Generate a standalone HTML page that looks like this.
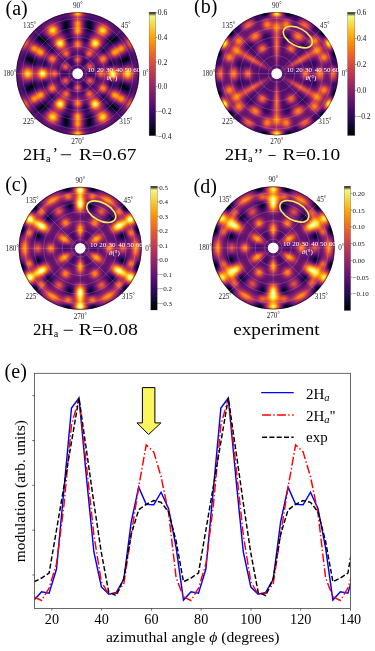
<!DOCTYPE html><html><head><meta charset="utf-8"><title>figure</title><style>html,body{margin:0;padding:0;background:#fff;}svg,canvas{display:block;position:absolute;left:0;top:0;}</style></head><body>
<div style="position:relative;width:375px;height:651px;overflow:hidden">
<svg id="fbs" width="375" height="651" viewBox="0 0 375 651">
<defs>
<filter id="inf" x="0" y="0" width="1" height="1" color-interpolation-filters="sRGB"><feComponentTransfer><feFuncR type="table" tableValues="0.001 0.006 0.014 0.026 0.042 0.061 0.082 0.105 0.129 0.156 0.183 0.211 0.238 0.265 0.291 0.316 0.348 0.373 0.398 0.423 0.447 0.472 0.497 0.522 0.547 0.572 0.597 0.622 0.646 0.671 0.695 0.718 0.747 0.770 0.791 0.812 0.832 0.851 0.869 0.886 0.902 0.916 0.930 0.942 0.952 0.961 0.969 0.976 0.982 0.985 0.987 0.988 0.987 0.985 0.981 0.976 0.970 0.963 0.955 0.949 0.946 0.952 0.966 0.988"/><feFuncG type="table" tableValues="0.000 0.005 0.011 0.019 0.028 0.037 0.043 0.047 0.047 0.045 0.040 0.037 0.037 0.040 0.046 0.053 0.065 0.074 0.083 0.093 0.102 0.111 0.119 0.128 0.137 0.146 0.155 0.164 0.174 0.184 0.195 0.207 0.222 0.236 0.251 0.267 0.284 0.302 0.322 0.343 0.364 0.387 0.411 0.436 0.462 0.489 0.516 0.544 0.579 0.608 0.638 0.668 0.698 0.728 0.759 0.790 0.821 0.851 0.882 0.910 0.937 0.961 0.981 0.998"/><feFuncB type="table" tableValues="0.014 0.039 0.072 0.106 0.141 0.178 0.215 0.253 0.291 0.325 0.355 0.379 0.396 0.409 0.419 0.425 0.430 0.432 0.433 0.433 0.431 0.428 0.424 0.420 0.414 0.406 0.398 0.389 0.378 0.367 0.354 0.341 0.323 0.307 0.291 0.275 0.257 0.240 0.221 0.203 0.184 0.165 0.145 0.125 0.105 0.084 0.063 0.044 0.026 0.024 0.035 0.058 0.088 0.121 0.157 0.196 0.239 0.286 0.337 0.395 0.459 0.524 0.587 0.645"/></feComponentTransfer></filter>
<radialGradient id="gw"><stop offset="0.00" stop-color="#fff" stop-opacity="1.000"/><stop offset="0.10" stop-color="#fff" stop-opacity="0.956"/><stop offset="0.20" stop-color="#fff" stop-opacity="0.835"/><stop offset="0.30" stop-color="#fff" stop-opacity="0.667"/><stop offset="0.40" stop-color="#fff" stop-opacity="0.487"/><stop offset="0.50" stop-color="#fff" stop-opacity="0.325"/><stop offset="0.60" stop-color="#fff" stop-opacity="0.198"/><stop offset="0.70" stop-color="#fff" stop-opacity="0.110"/><stop offset="0.80" stop-color="#fff" stop-opacity="0.056"/><stop offset="0.90" stop-color="#fff" stop-opacity="0.026"/><stop offset="1.00" stop-color="#fff" stop-opacity="0.011"/></radialGradient>
<radialGradient id="gk"><stop offset="0.00" stop-color="#000" stop-opacity="1.000"/><stop offset="0.10" stop-color="#000" stop-opacity="0.956"/><stop offset="0.20" stop-color="#000" stop-opacity="0.835"/><stop offset="0.30" stop-color="#000" stop-opacity="0.667"/><stop offset="0.40" stop-color="#000" stop-opacity="0.487"/><stop offset="0.50" stop-color="#000" stop-opacity="0.325"/><stop offset="0.60" stop-color="#000" stop-opacity="0.198"/><stop offset="0.70" stop-color="#000" stop-opacity="0.110"/><stop offset="0.80" stop-color="#000" stop-opacity="0.056"/><stop offset="0.90" stop-color="#000" stop-opacity="0.026"/><stop offset="1.00" stop-color="#000" stop-opacity="0.011"/></radialGradient>
<clipPath id="c0"><circle cx="77.70" cy="73.70" r="61.50"/></clipPath>
<clipPath id="c1"><circle cx="276.70" cy="73.70" r="61.60"/></clipPath>
<clipPath id="c2"><circle cx="80.20" cy="248.30" r="61.50"/></clipPath>
<clipPath id="c3"><circle cx="273.20" cy="247.90" r="61.50"/></clipPath>
</defs>
<g clip-path="url(#c0)"><g filter="url(#inf)">
<rect x="15.2" y="11.2" width="125.0" height="125.0" fill="#3d3d3d"/>
<ellipse cx="111.5" cy="64.6" rx="9.0" ry="10.2" transform="rotate(-15.0 111.5 64.6)" fill="url(#gk)" fill-opacity="0.83"/>
<ellipse cx="111.5" cy="82.8" rx="9.0" ry="10.2" transform="rotate(-345.0 111.5 82.8)" fill="url(#gk)" fill-opacity="0.83"/>
<ellipse cx="86.8" cy="39.9" rx="9.0" ry="10.2" transform="rotate(-75.0 86.8 39.9)" fill="url(#gk)" fill-opacity="0.83"/>
<ellipse cx="102.4" cy="49.0" rx="9.0" ry="10.2" transform="rotate(-45.0 102.4 49.0)" fill="url(#gk)" fill-opacity="0.83"/>
<ellipse cx="53.0" cy="49.0" rx="9.0" ry="10.2" transform="rotate(-135.0 53.0 49.0)" fill="url(#gk)" fill-opacity="0.83"/>
<ellipse cx="68.6" cy="39.9" rx="9.0" ry="10.2" transform="rotate(-105.0 68.6 39.9)" fill="url(#gk)" fill-opacity="0.83"/>
<ellipse cx="43.9" cy="82.8" rx="9.0" ry="10.2" transform="rotate(-195.0 43.9 82.8)" fill="url(#gk)" fill-opacity="0.83"/>
<ellipse cx="43.9" cy="64.6" rx="9.0" ry="10.2" transform="rotate(-165.0 43.9 64.6)" fill="url(#gk)" fill-opacity="0.83"/>
<ellipse cx="68.6" cy="107.5" rx="9.0" ry="10.2" transform="rotate(-255.0 68.6 107.5)" fill="url(#gk)" fill-opacity="0.83"/>
<ellipse cx="53.0" cy="98.4" rx="9.0" ry="10.2" transform="rotate(-225.0 53.0 98.4)" fill="url(#gk)" fill-opacity="0.83"/>
<ellipse cx="102.4" cy="98.4" rx="9.0" ry="10.2" transform="rotate(-315.0 102.4 98.4)" fill="url(#gk)" fill-opacity="0.83"/>
<ellipse cx="86.8" cy="107.5" rx="9.0" ry="10.2" transform="rotate(-285.0 86.8 107.5)" fill="url(#gk)" fill-opacity="0.83"/>
<ellipse cx="122.1" cy="61.8" rx="8.4" ry="9.6" transform="rotate(-15.0 122.1 61.8)" fill="url(#gk)" fill-opacity="0.83"/>
<ellipse cx="122.1" cy="85.6" rx="8.4" ry="9.6" transform="rotate(-345.0 122.1 85.6)" fill="url(#gk)" fill-opacity="0.83"/>
<ellipse cx="89.6" cy="29.3" rx="8.4" ry="9.6" transform="rotate(-75.0 89.6 29.3)" fill="url(#gk)" fill-opacity="0.83"/>
<ellipse cx="110.2" cy="41.2" rx="8.4" ry="9.6" transform="rotate(-45.0 110.2 41.2)" fill="url(#gk)" fill-opacity="0.83"/>
<ellipse cx="45.2" cy="41.2" rx="8.4" ry="9.6" transform="rotate(-135.0 45.2 41.2)" fill="url(#gk)" fill-opacity="0.83"/>
<ellipse cx="65.8" cy="29.3" rx="8.4" ry="9.6" transform="rotate(-105.0 65.8 29.3)" fill="url(#gk)" fill-opacity="0.83"/>
<ellipse cx="33.3" cy="85.6" rx="8.4" ry="9.6" transform="rotate(-195.0 33.3 85.6)" fill="url(#gk)" fill-opacity="0.83"/>
<ellipse cx="33.3" cy="61.8" rx="8.4" ry="9.6" transform="rotate(-165.0 33.3 61.8)" fill="url(#gk)" fill-opacity="0.83"/>
<ellipse cx="65.8" cy="118.1" rx="8.4" ry="9.6" transform="rotate(-255.0 65.8 118.1)" fill="url(#gk)" fill-opacity="0.83"/>
<ellipse cx="45.2" cy="106.2" rx="8.4" ry="9.6" transform="rotate(-225.0 45.2 106.2)" fill="url(#gk)" fill-opacity="0.83"/>
<ellipse cx="110.2" cy="106.2" rx="8.4" ry="9.6" transform="rotate(-315.0 110.2 106.2)" fill="url(#gk)" fill-opacity="0.83"/>
<ellipse cx="89.6" cy="118.1" rx="8.4" ry="9.6" transform="rotate(-285.0 89.6 118.1)" fill="url(#gk)" fill-opacity="0.83"/>
<ellipse cx="127.4" cy="58.5" rx="8.4" ry="9.6" transform="rotate(-17.0 127.4 58.5)" fill="url(#gk)" fill-opacity="0.75"/>
<ellipse cx="127.4" cy="88.9" rx="8.4" ry="9.6" transform="rotate(-343.0 127.4 88.9)" fill="url(#gk)" fill-opacity="0.75"/>
<ellipse cx="89.4" cy="23.0" rx="8.4" ry="9.6" transform="rotate(-77.0 89.4 23.0)" fill="url(#gk)" fill-opacity="0.75"/>
<ellipse cx="115.7" cy="38.2" rx="8.4" ry="9.6" transform="rotate(-43.0 115.7 38.2)" fill="url(#gk)" fill-opacity="0.75"/>
<ellipse cx="39.7" cy="38.2" rx="8.4" ry="9.6" transform="rotate(-137.0 39.7 38.2)" fill="url(#gk)" fill-opacity="0.75"/>
<ellipse cx="66.0" cy="23.0" rx="8.4" ry="9.6" transform="rotate(-103.0 66.0 23.0)" fill="url(#gk)" fill-opacity="0.75"/>
<ellipse cx="28.0" cy="88.9" rx="8.4" ry="9.6" transform="rotate(-197.0 28.0 88.9)" fill="url(#gk)" fill-opacity="0.75"/>
<ellipse cx="28.0" cy="58.5" rx="8.4" ry="9.6" transform="rotate(-163.0 28.0 58.5)" fill="url(#gk)" fill-opacity="0.75"/>
<ellipse cx="66.0" cy="124.4" rx="8.4" ry="9.6" transform="rotate(-257.0 66.0 124.4)" fill="url(#gk)" fill-opacity="0.75"/>
<ellipse cx="39.7" cy="109.2" rx="8.4" ry="9.6" transform="rotate(-223.0 39.7 109.2)" fill="url(#gk)" fill-opacity="0.75"/>
<ellipse cx="115.7" cy="109.2" rx="8.4" ry="9.6" transform="rotate(-317.0 115.7 109.2)" fill="url(#gk)" fill-opacity="0.75"/>
<ellipse cx="89.4" cy="124.4" rx="8.4" ry="9.6" transform="rotate(-283.0 89.4 124.4)" fill="url(#gk)" fill-opacity="0.75"/>
<ellipse cx="90.7" cy="73.7" rx="7.5" ry="7.5" transform="rotate(0.0 90.7 73.7)" fill="url(#gk)" fill-opacity="0.50"/>
<ellipse cx="84.2" cy="62.4" rx="7.5" ry="7.5" transform="rotate(-60.0 84.2 62.4)" fill="url(#gk)" fill-opacity="0.50"/>
<ellipse cx="71.2" cy="62.4" rx="7.5" ry="7.5" transform="rotate(-120.0 71.2 62.4)" fill="url(#gk)" fill-opacity="0.50"/>
<ellipse cx="64.7" cy="73.7" rx="7.5" ry="7.5" transform="rotate(-180.0 64.7 73.7)" fill="url(#gk)" fill-opacity="0.50"/>
<ellipse cx="71.2" cy="85.0" rx="7.5" ry="7.5" transform="rotate(-240.0 71.2 85.0)" fill="url(#gk)" fill-opacity="0.50"/>
<ellipse cx="84.2" cy="85.0" rx="7.5" ry="7.5" transform="rotate(-300.0 84.2 85.0)" fill="url(#gk)" fill-opacity="0.50"/>
<ellipse cx="97.3" cy="69.5" rx="6.6" ry="6.6" transform="rotate(-12.0 97.3 69.5)" fill="url(#gk)" fill-opacity="0.42"/>
<ellipse cx="97.3" cy="77.9" rx="6.6" ry="6.6" transform="rotate(-348.0 97.3 77.9)" fill="url(#gk)" fill-opacity="0.42"/>
<ellipse cx="83.9" cy="54.7" rx="6.6" ry="6.6" transform="rotate(-72.0 83.9 54.7)" fill="url(#gk)" fill-opacity="0.42"/>
<ellipse cx="91.1" cy="58.8" rx="6.6" ry="6.6" transform="rotate(-48.0 91.1 58.8)" fill="url(#gk)" fill-opacity="0.42"/>
<ellipse cx="64.3" cy="58.8" rx="6.6" ry="6.6" transform="rotate(-132.0 64.3 58.8)" fill="url(#gk)" fill-opacity="0.42"/>
<ellipse cx="71.5" cy="54.7" rx="6.6" ry="6.6" transform="rotate(-108.0 71.5 54.7)" fill="url(#gk)" fill-opacity="0.42"/>
<ellipse cx="58.1" cy="77.9" rx="6.6" ry="6.6" transform="rotate(-192.0 58.1 77.9)" fill="url(#gk)" fill-opacity="0.42"/>
<ellipse cx="58.1" cy="69.5" rx="6.6" ry="6.6" transform="rotate(-168.0 58.1 69.5)" fill="url(#gk)" fill-opacity="0.42"/>
<ellipse cx="71.5" cy="92.7" rx="6.6" ry="6.6" transform="rotate(-252.0 71.5 92.7)" fill="url(#gk)" fill-opacity="0.42"/>
<ellipse cx="64.3" cy="88.6" rx="6.6" ry="6.6" transform="rotate(-228.0 64.3 88.6)" fill="url(#gk)" fill-opacity="0.42"/>
<ellipse cx="91.1" cy="88.6" rx="6.6" ry="6.6" transform="rotate(-312.0 91.1 88.6)" fill="url(#gk)" fill-opacity="0.42"/>
<ellipse cx="83.9" cy="92.7" rx="6.6" ry="6.6" transform="rotate(-288.0 83.9 92.7)" fill="url(#gk)" fill-opacity="0.42"/>
<ellipse cx="77.7" cy="13.7" rx="9.0" ry="10.5" transform="rotate(-90.0 77.7 13.7)" fill="url(#gw)" fill-opacity="0.29"/>
<ellipse cx="77.7" cy="133.7" rx="9.0" ry="10.5" transform="rotate(-270.0 77.7 133.7)" fill="url(#gw)" fill-opacity="0.29"/>
<ellipse cx="129.7" cy="43.7" rx="6.0" ry="13.5" transform="rotate(-30.0 129.7 43.7)" fill="url(#gw)" fill-opacity="0.53"/>
<ellipse cx="129.7" cy="103.7" rx="6.0" ry="13.5" transform="rotate(-330.0 129.7 103.7)" fill="url(#gw)" fill-opacity="0.53"/>
<ellipse cx="77.7" cy="13.7" rx="6.0" ry="13.5" transform="rotate(-90.0 77.7 13.7)" fill="url(#gw)" fill-opacity="0.53"/>
<ellipse cx="25.7" cy="43.7" rx="6.0" ry="13.5" transform="rotate(-150.0 25.7 43.7)" fill="url(#gw)" fill-opacity="0.53"/>
<ellipse cx="25.7" cy="103.7" rx="6.0" ry="13.5" transform="rotate(-210.0 25.7 103.7)" fill="url(#gw)" fill-opacity="0.53"/>
<ellipse cx="77.7" cy="133.7" rx="6.0" ry="13.5" transform="rotate(-270.0 77.7 133.7)" fill="url(#gw)" fill-opacity="0.53"/>
<ellipse cx="89.8" cy="66.7" rx="7.8" ry="7.8" transform="rotate(-30.0 89.8 66.7)" fill="url(#gw)" fill-opacity="0.55"/>
<ellipse cx="89.8" cy="80.7" rx="7.8" ry="7.8" transform="rotate(-330.0 89.8 80.7)" fill="url(#gw)" fill-opacity="0.55"/>
<ellipse cx="77.7" cy="59.7" rx="7.8" ry="7.8" transform="rotate(-90.0 77.7 59.7)" fill="url(#gw)" fill-opacity="0.55"/>
<ellipse cx="65.6" cy="66.7" rx="7.8" ry="7.8" transform="rotate(-150.0 65.6 66.7)" fill="url(#gw)" fill-opacity="0.55"/>
<ellipse cx="65.6" cy="80.7" rx="7.8" ry="7.8" transform="rotate(-210.0 65.6 80.7)" fill="url(#gw)" fill-opacity="0.55"/>
<ellipse cx="77.7" cy="87.7" rx="7.8" ry="7.8" transform="rotate(-270.0 77.7 87.7)" fill="url(#gw)" fill-opacity="0.55"/>
<ellipse cx="100.7" cy="73.7" rx="9.0" ry="9.6" transform="rotate(0.0 100.7 73.7)" fill="url(#gw)" fill-opacity="0.59"/>
<ellipse cx="89.2" cy="53.8" rx="9.0" ry="9.6" transform="rotate(-60.0 89.2 53.8)" fill="url(#gw)" fill-opacity="0.59"/>
<ellipse cx="66.2" cy="53.8" rx="9.0" ry="9.6" transform="rotate(-120.0 66.2 53.8)" fill="url(#gw)" fill-opacity="0.59"/>
<ellipse cx="54.7" cy="73.7" rx="9.0" ry="9.6" transform="rotate(-180.0 54.7 73.7)" fill="url(#gw)" fill-opacity="0.59"/>
<ellipse cx="66.2" cy="93.6" rx="9.0" ry="9.6" transform="rotate(-240.0 66.2 93.6)" fill="url(#gw)" fill-opacity="0.59"/>
<ellipse cx="89.2" cy="93.6" rx="9.0" ry="9.6" transform="rotate(-300.0 89.2 93.6)" fill="url(#gw)" fill-opacity="0.59"/>
<ellipse cx="103.2" cy="59.0" rx="9.6" ry="9.6" transform="rotate(-30.0 103.2 59.0)" fill="url(#gw)" fill-opacity="0.68"/>
<ellipse cx="103.2" cy="88.5" rx="9.6" ry="9.6" transform="rotate(-330.0 103.2 88.5)" fill="url(#gw)" fill-opacity="0.68"/>
<ellipse cx="77.7" cy="44.2" rx="9.6" ry="9.6" transform="rotate(-90.0 77.7 44.2)" fill="url(#gw)" fill-opacity="0.68"/>
<ellipse cx="52.2" cy="59.0" rx="9.6" ry="9.6" transform="rotate(-150.0 52.2 59.0)" fill="url(#gw)" fill-opacity="0.68"/>
<ellipse cx="52.2" cy="88.5" rx="9.6" ry="9.6" transform="rotate(-210.0 52.2 88.5)" fill="url(#gw)" fill-opacity="0.68"/>
<ellipse cx="77.7" cy="103.2" rx="9.6" ry="9.6" transform="rotate(-270.0 77.7 103.2)" fill="url(#gw)" fill-opacity="0.68"/>
<ellipse cx="121.4" cy="48.5" rx="9.9" ry="9.6" transform="rotate(-30.0 121.4 48.5)" fill="url(#gw)" fill-opacity="0.68"/>
<ellipse cx="121.4" cy="99.0" rx="9.9" ry="9.6" transform="rotate(-330.0 121.4 99.0)" fill="url(#gw)" fill-opacity="0.68"/>
<ellipse cx="77.7" cy="23.2" rx="9.9" ry="9.6" transform="rotate(-90.0 77.7 23.2)" fill="url(#gw)" fill-opacity="0.68"/>
<ellipse cx="34.0" cy="48.5" rx="9.9" ry="9.6" transform="rotate(-150.0 34.0 48.5)" fill="url(#gw)" fill-opacity="0.68"/>
<ellipse cx="34.0" cy="99.0" rx="9.9" ry="9.6" transform="rotate(-210.0 34.0 99.0)" fill="url(#gw)" fill-opacity="0.68"/>
<ellipse cx="77.7" cy="124.2" rx="9.9" ry="9.6" transform="rotate(-270.0 77.7 124.2)" fill="url(#gw)" fill-opacity="0.68"/>
<ellipse cx="114.5" cy="52.5" rx="9.9" ry="9.6" transform="rotate(-30.0 114.5 52.5)" fill="url(#gw)" fill-opacity="0.74"/>
<ellipse cx="114.5" cy="95.0" rx="9.9" ry="9.6" transform="rotate(-330.0 114.5 95.0)" fill="url(#gw)" fill-opacity="0.74"/>
<ellipse cx="77.7" cy="31.2" rx="9.9" ry="9.6" transform="rotate(-90.0 77.7 31.2)" fill="url(#gw)" fill-opacity="0.74"/>
<ellipse cx="40.9" cy="52.5" rx="9.9" ry="9.6" transform="rotate(-150.0 40.9 52.5)" fill="url(#gw)" fill-opacity="0.74"/>
<ellipse cx="40.9" cy="95.0" rx="9.9" ry="9.6" transform="rotate(-210.0 40.9 95.0)" fill="url(#gw)" fill-opacity="0.74"/>
<ellipse cx="77.7" cy="116.2" rx="9.9" ry="9.6" transform="rotate(-270.0 77.7 116.2)" fill="url(#gw)" fill-opacity="0.74"/>
<ellipse cx="127.7" cy="73.7" rx="12.0" ry="13.2" transform="rotate(0.0 127.7 73.7)" fill="url(#gw)" fill-opacity="0.89"/>
<ellipse cx="102.7" cy="30.4" rx="12.0" ry="13.2" transform="rotate(-60.0 102.7 30.4)" fill="url(#gw)" fill-opacity="0.89"/>
<ellipse cx="52.7" cy="30.4" rx="12.0" ry="13.2" transform="rotate(-120.0 52.7 30.4)" fill="url(#gw)" fill-opacity="0.89"/>
<ellipse cx="27.7" cy="73.7" rx="12.0" ry="13.2" transform="rotate(-180.0 27.7 73.7)" fill="url(#gw)" fill-opacity="0.89"/>
<ellipse cx="52.7" cy="117.0" rx="12.0" ry="13.2" transform="rotate(-240.0 52.7 117.0)" fill="url(#gw)" fill-opacity="0.89"/>
<ellipse cx="102.7" cy="117.0" rx="12.0" ry="13.2" transform="rotate(-300.0 102.7 117.0)" fill="url(#gw)" fill-opacity="0.89"/>
<ellipse cx="112.7" cy="73.7" rx="12.0" ry="13.2" transform="rotate(0.0 112.7 73.7)" fill="url(#gw)" fill-opacity="1.00"/>
<ellipse cx="95.2" cy="43.4" rx="12.0" ry="13.2" transform="rotate(-60.0 95.2 43.4)" fill="url(#gw)" fill-opacity="1.00"/>
<ellipse cx="60.2" cy="43.4" rx="12.0" ry="13.2" transform="rotate(-120.0 60.2 43.4)" fill="url(#gw)" fill-opacity="1.00"/>
<ellipse cx="42.7" cy="73.7" rx="12.0" ry="13.2" transform="rotate(-180.0 42.7 73.7)" fill="url(#gw)" fill-opacity="1.00"/>
<ellipse cx="60.2" cy="104.0" rx="12.0" ry="13.2" transform="rotate(-240.0 60.2 104.0)" fill="url(#gw)" fill-opacity="1.00"/>
<ellipse cx="95.2" cy="104.0" rx="12.0" ry="13.2" transform="rotate(-300.0 95.2 104.0)" fill="url(#gw)" fill-opacity="1.00"/>
</g></g>
<g clip-path="url(#c1)"><g filter="url(#inf)">
<rect x="214.1" y="11.1" width="125.2" height="125.2" fill="#3d3d3d"/>
<ellipse cx="334.2" cy="53.9" rx="6.0" ry="9.0" transform="rotate(-19.0 334.2 53.9)" fill="url(#gk)" fill-opacity="1.00"/>
<ellipse cx="334.2" cy="93.5" rx="6.0" ry="9.0" transform="rotate(-341.0 334.2 93.5)" fill="url(#gk)" fill-opacity="1.00"/>
<ellipse cx="288.3" cy="14.0" rx="6.0" ry="9.0" transform="rotate(-79.0 288.3 14.0)" fill="url(#gk)" fill-opacity="1.00"/>
<ellipse cx="322.6" cy="33.8" rx="6.0" ry="9.0" transform="rotate(-41.0 322.6 33.8)" fill="url(#gk)" fill-opacity="1.00"/>
<ellipse cx="230.8" cy="33.8" rx="6.0" ry="9.0" transform="rotate(-139.0 230.8 33.8)" fill="url(#gk)" fill-opacity="1.00"/>
<ellipse cx="265.1" cy="14.0" rx="6.0" ry="9.0" transform="rotate(-101.0 265.1 14.0)" fill="url(#gk)" fill-opacity="1.00"/>
<ellipse cx="219.2" cy="93.5" rx="6.0" ry="9.0" transform="rotate(-199.0 219.2 93.5)" fill="url(#gk)" fill-opacity="1.00"/>
<ellipse cx="219.2" cy="53.9" rx="6.0" ry="9.0" transform="rotate(-161.0 219.2 53.9)" fill="url(#gk)" fill-opacity="1.00"/>
<ellipse cx="265.1" cy="133.4" rx="6.0" ry="9.0" transform="rotate(-259.0 265.1 133.4)" fill="url(#gk)" fill-opacity="1.00"/>
<ellipse cx="230.8" cy="113.6" rx="6.0" ry="9.0" transform="rotate(-221.0 230.8 113.6)" fill="url(#gk)" fill-opacity="1.00"/>
<ellipse cx="322.6" cy="113.6" rx="6.0" ry="9.0" transform="rotate(-319.0 322.6 113.6)" fill="url(#gk)" fill-opacity="1.00"/>
<ellipse cx="288.3" cy="133.4" rx="6.0" ry="9.0" transform="rotate(-281.0 288.3 133.4)" fill="url(#gk)" fill-opacity="1.00"/>
<ellipse cx="314.7" cy="64.9" rx="9.0" ry="9.0" transform="rotate(-13.0 314.7 64.9)" fill="url(#gk)" fill-opacity="0.50"/>
<ellipse cx="314.7" cy="82.5" rx="9.0" ry="9.0" transform="rotate(-347.0 314.7 82.5)" fill="url(#gk)" fill-opacity="0.50"/>
<ellipse cx="288.1" cy="36.4" rx="9.0" ry="9.0" transform="rotate(-73.0 288.1 36.4)" fill="url(#gk)" fill-opacity="0.50"/>
<ellipse cx="303.3" cy="45.2" rx="9.0" ry="9.0" transform="rotate(-47.0 303.3 45.2)" fill="url(#gk)" fill-opacity="0.50"/>
<ellipse cx="250.1" cy="45.2" rx="9.0" ry="9.0" transform="rotate(-133.0 250.1 45.2)" fill="url(#gk)" fill-opacity="0.50"/>
<ellipse cx="265.3" cy="36.4" rx="9.0" ry="9.0" transform="rotate(-107.0 265.3 36.4)" fill="url(#gk)" fill-opacity="0.50"/>
<ellipse cx="238.7" cy="82.5" rx="9.0" ry="9.0" transform="rotate(-193.0 238.7 82.5)" fill="url(#gk)" fill-opacity="0.50"/>
<ellipse cx="238.7" cy="64.9" rx="9.0" ry="9.0" transform="rotate(-167.0 238.7 64.9)" fill="url(#gk)" fill-opacity="0.50"/>
<ellipse cx="265.3" cy="111.0" rx="9.0" ry="9.0" transform="rotate(-253.0 265.3 111.0)" fill="url(#gk)" fill-opacity="0.50"/>
<ellipse cx="250.1" cy="102.2" rx="9.0" ry="9.0" transform="rotate(-227.0 250.1 102.2)" fill="url(#gk)" fill-opacity="0.50"/>
<ellipse cx="303.3" cy="102.2" rx="9.0" ry="9.0" transform="rotate(-313.0 303.3 102.2)" fill="url(#gk)" fill-opacity="0.50"/>
<ellipse cx="288.1" cy="111.0" rx="9.0" ry="9.0" transform="rotate(-287.0 288.1 111.0)" fill="url(#gk)" fill-opacity="0.50"/>
<ellipse cx="333.8" cy="63.6" rx="7.5" ry="9.0" transform="rotate(-10.0 333.8 63.6)" fill="url(#gk)" fill-opacity="0.50"/>
<ellipse cx="333.8" cy="83.8" rx="7.5" ry="9.0" transform="rotate(-350.0 333.8 83.8)" fill="url(#gk)" fill-opacity="0.50"/>
<ellipse cx="296.5" cy="19.2" rx="7.5" ry="9.0" transform="rotate(-70.0 296.5 19.2)" fill="url(#gk)" fill-opacity="0.50"/>
<ellipse cx="314.0" cy="29.3" rx="7.5" ry="9.0" transform="rotate(-50.0 314.0 29.3)" fill="url(#gk)" fill-opacity="0.50"/>
<ellipse cx="239.4" cy="29.3" rx="7.5" ry="9.0" transform="rotate(-130.0 239.4 29.3)" fill="url(#gk)" fill-opacity="0.50"/>
<ellipse cx="256.9" cy="19.2" rx="7.5" ry="9.0" transform="rotate(-110.0 256.9 19.2)" fill="url(#gk)" fill-opacity="0.50"/>
<ellipse cx="219.6" cy="83.8" rx="7.5" ry="9.0" transform="rotate(-190.0 219.6 83.8)" fill="url(#gk)" fill-opacity="0.50"/>
<ellipse cx="219.6" cy="63.6" rx="7.5" ry="9.0" transform="rotate(-170.0 219.6 63.6)" fill="url(#gk)" fill-opacity="0.50"/>
<ellipse cx="256.9" cy="128.2" rx="7.5" ry="9.0" transform="rotate(-250.0 256.9 128.2)" fill="url(#gk)" fill-opacity="0.50"/>
<ellipse cx="239.4" cy="118.1" rx="7.5" ry="9.0" transform="rotate(-230.0 239.4 118.1)" fill="url(#gk)" fill-opacity="0.50"/>
<ellipse cx="314.0" cy="118.1" rx="7.5" ry="9.0" transform="rotate(-310.0 314.0 118.1)" fill="url(#gk)" fill-opacity="0.50"/>
<ellipse cx="296.5" cy="128.2" rx="7.5" ry="9.0" transform="rotate(-290.0 296.5 128.2)" fill="url(#gk)" fill-opacity="0.50"/>
<ellipse cx="305.7" cy="65.9" rx="9.0" ry="9.0" transform="rotate(-15.0 305.7 65.9)" fill="url(#gk)" fill-opacity="0.25"/>
<ellipse cx="305.7" cy="81.5" rx="9.0" ry="9.0" transform="rotate(-345.0 305.7 81.5)" fill="url(#gk)" fill-opacity="0.25"/>
<ellipse cx="284.5" cy="44.7" rx="9.0" ry="9.0" transform="rotate(-75.0 284.5 44.7)" fill="url(#gk)" fill-opacity="0.25"/>
<ellipse cx="297.9" cy="52.5" rx="9.0" ry="9.0" transform="rotate(-45.0 297.9 52.5)" fill="url(#gk)" fill-opacity="0.25"/>
<ellipse cx="255.5" cy="52.5" rx="9.0" ry="9.0" transform="rotate(-135.0 255.5 52.5)" fill="url(#gk)" fill-opacity="0.25"/>
<ellipse cx="268.9" cy="44.7" rx="9.0" ry="9.0" transform="rotate(-105.0 268.9 44.7)" fill="url(#gk)" fill-opacity="0.25"/>
<ellipse cx="247.7" cy="81.5" rx="9.0" ry="9.0" transform="rotate(-195.0 247.7 81.5)" fill="url(#gk)" fill-opacity="0.25"/>
<ellipse cx="247.7" cy="65.9" rx="9.0" ry="9.0" transform="rotate(-165.0 247.7 65.9)" fill="url(#gk)" fill-opacity="0.25"/>
<ellipse cx="268.9" cy="102.7" rx="9.0" ry="9.0" transform="rotate(-255.0 268.9 102.7)" fill="url(#gk)" fill-opacity="0.25"/>
<ellipse cx="255.5" cy="94.9" rx="9.0" ry="9.0" transform="rotate(-225.0 255.5 94.9)" fill="url(#gk)" fill-opacity="0.25"/>
<ellipse cx="297.9" cy="94.9" rx="9.0" ry="9.0" transform="rotate(-315.0 297.9 94.9)" fill="url(#gk)" fill-opacity="0.25"/>
<ellipse cx="284.5" cy="102.7" rx="9.0" ry="9.0" transform="rotate(-285.0 284.5 102.7)" fill="url(#gk)" fill-opacity="0.25"/>
<ellipse cx="317.4" cy="50.2" rx="12.0" ry="9.6" transform="rotate(-30.0 317.4 50.2)" fill="url(#gw)" fill-opacity="0.50"/>
<ellipse cx="317.4" cy="97.2" rx="12.0" ry="9.6" transform="rotate(-330.0 317.4 97.2)" fill="url(#gw)" fill-opacity="0.50"/>
<ellipse cx="276.7" cy="26.7" rx="12.0" ry="9.6" transform="rotate(-90.0 276.7 26.7)" fill="url(#gw)" fill-opacity="0.50"/>
<ellipse cx="236.0" cy="50.2" rx="12.0" ry="9.6" transform="rotate(-150.0 236.0 50.2)" fill="url(#gw)" fill-opacity="0.50"/>
<ellipse cx="236.0" cy="97.2" rx="12.0" ry="9.6" transform="rotate(-210.0 236.0 97.2)" fill="url(#gw)" fill-opacity="0.50"/>
<ellipse cx="276.7" cy="120.7" rx="12.0" ry="9.6" transform="rotate(-270.0 276.7 120.7)" fill="url(#gw)" fill-opacity="0.50"/>
<ellipse cx="301.8" cy="59.2" rx="36.0" ry="7.2" transform="rotate(-30.0 301.8 59.2)" fill="url(#gw)" fill-opacity="0.55"/>
<ellipse cx="301.8" cy="88.2" rx="36.0" ry="7.2" transform="rotate(-330.0 301.8 88.2)" fill="url(#gw)" fill-opacity="0.55"/>
<ellipse cx="276.7" cy="44.7" rx="36.0" ry="7.2" transform="rotate(-90.0 276.7 44.7)" fill="url(#gw)" fill-opacity="0.55"/>
<ellipse cx="251.6" cy="59.2" rx="36.0" ry="7.2" transform="rotate(-150.0 251.6 59.2)" fill="url(#gw)" fill-opacity="0.55"/>
<ellipse cx="251.6" cy="88.2" rx="36.0" ry="7.2" transform="rotate(-210.0 251.6 88.2)" fill="url(#gw)" fill-opacity="0.55"/>
<ellipse cx="276.7" cy="102.7" rx="36.0" ry="7.2" transform="rotate(-270.0 276.7 102.7)" fill="url(#gw)" fill-opacity="0.55"/>
<ellipse cx="333.2" cy="73.7" rx="8.4" ry="16.5" transform="rotate(0.0 333.2 73.7)" fill="url(#gw)" fill-opacity="0.55"/>
<ellipse cx="304.9" cy="24.8" rx="8.4" ry="16.5" transform="rotate(-60.0 304.9 24.8)" fill="url(#gw)" fill-opacity="0.55"/>
<ellipse cx="248.4" cy="24.8" rx="8.4" ry="16.5" transform="rotate(-120.0 248.4 24.8)" fill="url(#gw)" fill-opacity="0.55"/>
<ellipse cx="220.2" cy="73.7" rx="8.4" ry="16.5" transform="rotate(-180.0 220.2 73.7)" fill="url(#gw)" fill-opacity="0.55"/>
<ellipse cx="248.4" cy="122.6" rx="8.4" ry="16.5" transform="rotate(-240.0 248.4 122.6)" fill="url(#gw)" fill-opacity="0.55"/>
<ellipse cx="304.9" cy="122.6" rx="8.4" ry="16.5" transform="rotate(-300.0 304.9 122.6)" fill="url(#gw)" fill-opacity="0.55"/>
<ellipse cx="305.7" cy="73.7" rx="9.0" ry="11.4" transform="rotate(0.0 305.7 73.7)" fill="url(#gw)" fill-opacity="0.61"/>
<ellipse cx="291.2" cy="48.6" rx="9.0" ry="11.4" transform="rotate(-60.0 291.2 48.6)" fill="url(#gw)" fill-opacity="0.61"/>
<ellipse cx="262.2" cy="48.6" rx="9.0" ry="11.4" transform="rotate(-120.0 262.2 48.6)" fill="url(#gw)" fill-opacity="0.61"/>
<ellipse cx="247.7" cy="73.7" rx="9.0" ry="11.4" transform="rotate(-180.0 247.7 73.7)" fill="url(#gw)" fill-opacity="0.61"/>
<ellipse cx="262.2" cy="98.8" rx="9.0" ry="11.4" transform="rotate(-240.0 262.2 98.8)" fill="url(#gw)" fill-opacity="0.61"/>
<ellipse cx="291.2" cy="98.8" rx="9.0" ry="11.4" transform="rotate(-300.0 291.2 98.8)" fill="url(#gw)" fill-opacity="0.61"/>
<ellipse cx="319.7" cy="73.7" rx="9.6" ry="14.4" transform="rotate(0.0 319.7 73.7)" fill="url(#gw)" fill-opacity="0.66"/>
<ellipse cx="298.2" cy="36.5" rx="9.6" ry="14.4" transform="rotate(-60.0 298.2 36.5)" fill="url(#gw)" fill-opacity="0.66"/>
<ellipse cx="255.2" cy="36.5" rx="9.6" ry="14.4" transform="rotate(-120.0 255.2 36.5)" fill="url(#gw)" fill-opacity="0.66"/>
<ellipse cx="233.7" cy="73.7" rx="9.6" ry="14.4" transform="rotate(-180.0 233.7 73.7)" fill="url(#gw)" fill-opacity="0.66"/>
<ellipse cx="255.2" cy="110.9" rx="9.6" ry="14.4" transform="rotate(-240.0 255.2 110.9)" fill="url(#gw)" fill-opacity="0.66"/>
<ellipse cx="298.2" cy="110.9" rx="9.6" ry="14.4" transform="rotate(-300.0 298.2 110.9)" fill="url(#gw)" fill-opacity="0.66"/>
<ellipse cx="324.0" cy="57.4" rx="11.4" ry="10.5" transform="rotate(-19.0 324.0 57.4)" fill="url(#gw)" fill-opacity="0.66"/>
<ellipse cx="324.0" cy="90.0" rx="11.4" ry="10.5" transform="rotate(-341.0 324.0 90.0)" fill="url(#gw)" fill-opacity="0.66"/>
<ellipse cx="286.2" cy="24.6" rx="11.4" ry="10.5" transform="rotate(-79.0 286.2 24.6)" fill="url(#gw)" fill-opacity="0.66"/>
<ellipse cx="314.4" cy="40.9" rx="11.4" ry="10.5" transform="rotate(-41.0 314.4 40.9)" fill="url(#gw)" fill-opacity="0.66"/>
<ellipse cx="239.0" cy="40.9" rx="11.4" ry="10.5" transform="rotate(-139.0 239.0 40.9)" fill="url(#gw)" fill-opacity="0.66"/>
<ellipse cx="267.2" cy="24.6" rx="11.4" ry="10.5" transform="rotate(-101.0 267.2 24.6)" fill="url(#gw)" fill-opacity="0.66"/>
<ellipse cx="229.4" cy="90.0" rx="11.4" ry="10.5" transform="rotate(-199.0 229.4 90.0)" fill="url(#gw)" fill-opacity="0.66"/>
<ellipse cx="229.4" cy="57.4" rx="11.4" ry="10.5" transform="rotate(-161.0 229.4 57.4)" fill="url(#gw)" fill-opacity="0.66"/>
<ellipse cx="267.2" cy="122.8" rx="11.4" ry="10.5" transform="rotate(-259.0 267.2 122.8)" fill="url(#gw)" fill-opacity="0.66"/>
<ellipse cx="239.0" cy="106.5" rx="11.4" ry="10.5" transform="rotate(-221.0 239.0 106.5)" fill="url(#gw)" fill-opacity="0.66"/>
<ellipse cx="314.4" cy="106.5" rx="11.4" ry="10.5" transform="rotate(-319.0 314.4 106.5)" fill="url(#gw)" fill-opacity="0.66"/>
<ellipse cx="286.2" cy="122.8" rx="11.4" ry="10.5" transform="rotate(-281.0 286.2 122.8)" fill="url(#gw)" fill-opacity="0.66"/>
<ellipse cx="328.7" cy="43.7" rx="7.5" ry="12.0" transform="rotate(-30.0 328.7 43.7)" fill="url(#gw)" fill-opacity="0.92"/>
<ellipse cx="328.7" cy="103.7" rx="7.5" ry="12.0" transform="rotate(-330.0 328.7 103.7)" fill="url(#gw)" fill-opacity="0.92"/>
<ellipse cx="276.7" cy="13.7" rx="7.5" ry="12.0" transform="rotate(-90.0 276.7 13.7)" fill="url(#gw)" fill-opacity="0.92"/>
<ellipse cx="224.7" cy="43.7" rx="7.5" ry="12.0" transform="rotate(-150.0 224.7 43.7)" fill="url(#gw)" fill-opacity="0.92"/>
<ellipse cx="224.7" cy="103.7" rx="7.5" ry="12.0" transform="rotate(-210.0 224.7 103.7)" fill="url(#gw)" fill-opacity="0.92"/>
<ellipse cx="276.7" cy="133.7" rx="7.5" ry="12.0" transform="rotate(-270.0 276.7 133.7)" fill="url(#gw)" fill-opacity="0.92"/>
</g></g>
<g clip-path="url(#c2)"><g filter="url(#inf)">
<rect x="17.7" y="185.8" width="125.0" height="125.0" fill="#404040"/>
<ellipse cx="137.5" cy="229.7" rx="7.5" ry="10.5" transform="rotate(-18.0 137.5 229.7)" fill="url(#gk)" fill-opacity="1.00"/>
<ellipse cx="137.5" cy="266.9" rx="7.5" ry="10.5" transform="rotate(-342.0 137.5 266.9)" fill="url(#gk)" fill-opacity="1.00"/>
<ellipse cx="92.7" cy="189.3" rx="7.5" ry="10.5" transform="rotate(-78.0 92.7 189.3)" fill="url(#gk)" fill-opacity="1.00"/>
<ellipse cx="125.0" cy="208.0" rx="7.5" ry="10.5" transform="rotate(-42.0 125.0 208.0)" fill="url(#gk)" fill-opacity="1.00"/>
<ellipse cx="35.4" cy="208.0" rx="7.5" ry="10.5" transform="rotate(-138.0 35.4 208.0)" fill="url(#gk)" fill-opacity="1.00"/>
<ellipse cx="67.7" cy="189.3" rx="7.5" ry="10.5" transform="rotate(-102.0 67.7 189.3)" fill="url(#gk)" fill-opacity="1.00"/>
<ellipse cx="22.9" cy="266.9" rx="7.5" ry="10.5" transform="rotate(-198.0 22.9 266.9)" fill="url(#gk)" fill-opacity="1.00"/>
<ellipse cx="22.9" cy="229.7" rx="7.5" ry="10.5" transform="rotate(-162.0 22.9 229.7)" fill="url(#gk)" fill-opacity="1.00"/>
<ellipse cx="67.7" cy="307.3" rx="7.5" ry="10.5" transform="rotate(-258.0 67.7 307.3)" fill="url(#gk)" fill-opacity="1.00"/>
<ellipse cx="35.4" cy="288.6" rx="7.5" ry="10.5" transform="rotate(-222.0 35.4 288.6)" fill="url(#gk)" fill-opacity="1.00"/>
<ellipse cx="125.0" cy="288.6" rx="7.5" ry="10.5" transform="rotate(-318.0 125.0 288.6)" fill="url(#gk)" fill-opacity="1.00"/>
<ellipse cx="92.7" cy="307.3" rx="7.5" ry="10.5" transform="rotate(-282.0 92.7 307.3)" fill="url(#gk)" fill-opacity="1.00"/>
<ellipse cx="122.3" cy="235.4" rx="9.6" ry="9.6" transform="rotate(-17.0 122.3 235.4)" fill="url(#gk)" fill-opacity="0.88"/>
<ellipse cx="122.3" cy="261.2" rx="9.6" ry="9.6" transform="rotate(-343.0 122.3 261.2)" fill="url(#gk)" fill-opacity="0.88"/>
<ellipse cx="90.1" cy="205.4" rx="9.6" ry="9.6" transform="rotate(-77.0 90.1 205.4)" fill="url(#gk)" fill-opacity="0.88"/>
<ellipse cx="112.4" cy="218.3" rx="9.6" ry="9.6" transform="rotate(-43.0 112.4 218.3)" fill="url(#gk)" fill-opacity="0.88"/>
<ellipse cx="48.0" cy="218.3" rx="9.6" ry="9.6" transform="rotate(-137.0 48.0 218.3)" fill="url(#gk)" fill-opacity="0.88"/>
<ellipse cx="70.3" cy="205.4" rx="9.6" ry="9.6" transform="rotate(-103.0 70.3 205.4)" fill="url(#gk)" fill-opacity="0.88"/>
<ellipse cx="38.1" cy="261.2" rx="9.6" ry="9.6" transform="rotate(-197.0 38.1 261.2)" fill="url(#gk)" fill-opacity="0.88"/>
<ellipse cx="38.1" cy="235.4" rx="9.6" ry="9.6" transform="rotate(-163.0 38.1 235.4)" fill="url(#gk)" fill-opacity="0.88"/>
<ellipse cx="70.3" cy="291.2" rx="9.6" ry="9.6" transform="rotate(-257.0 70.3 291.2)" fill="url(#gk)" fill-opacity="0.88"/>
<ellipse cx="48.0" cy="278.3" rx="9.6" ry="9.6" transform="rotate(-223.0 48.0 278.3)" fill="url(#gk)" fill-opacity="0.88"/>
<ellipse cx="112.4" cy="278.3" rx="9.6" ry="9.6" transform="rotate(-317.0 112.4 278.3)" fill="url(#gk)" fill-opacity="0.88"/>
<ellipse cx="90.1" cy="291.2" rx="9.6" ry="9.6" transform="rotate(-283.0 90.1 291.2)" fill="url(#gk)" fill-opacity="0.88"/>
<ellipse cx="94.2" cy="248.3" rx="9.0" ry="9.0" transform="rotate(0.0 94.2 248.3)" fill="url(#gk)" fill-opacity="0.24"/>
<ellipse cx="87.2" cy="236.2" rx="9.0" ry="9.0" transform="rotate(-60.0 87.2 236.2)" fill="url(#gk)" fill-opacity="0.24"/>
<ellipse cx="73.2" cy="236.2" rx="9.0" ry="9.0" transform="rotate(-120.0 73.2 236.2)" fill="url(#gk)" fill-opacity="0.24"/>
<ellipse cx="66.2" cy="248.3" rx="9.0" ry="9.0" transform="rotate(-180.0 66.2 248.3)" fill="url(#gk)" fill-opacity="0.24"/>
<ellipse cx="73.2" cy="260.4" rx="9.0" ry="9.0" transform="rotate(-240.0 73.2 260.4)" fill="url(#gk)" fill-opacity="0.24"/>
<ellipse cx="87.2" cy="260.4" rx="9.0" ry="9.0" transform="rotate(-300.0 87.2 260.4)" fill="url(#gk)" fill-opacity="0.24"/>
<ellipse cx="108.3" cy="232.1" rx="7.5" ry="7.5" transform="rotate(-30.0 108.3 232.1)" fill="url(#gk)" fill-opacity="0.24"/>
<ellipse cx="108.3" cy="264.6" rx="7.5" ry="7.5" transform="rotate(-330.0 108.3 264.6)" fill="url(#gk)" fill-opacity="0.24"/>
<ellipse cx="80.2" cy="215.8" rx="7.5" ry="7.5" transform="rotate(-90.0 80.2 215.8)" fill="url(#gk)" fill-opacity="0.24"/>
<ellipse cx="52.1" cy="232.1" rx="7.5" ry="7.5" transform="rotate(-150.0 52.1 232.1)" fill="url(#gk)" fill-opacity="0.24"/>
<ellipse cx="52.1" cy="264.6" rx="7.5" ry="7.5" transform="rotate(-210.0 52.1 264.6)" fill="url(#gk)" fill-opacity="0.24"/>
<ellipse cx="80.2" cy="280.8" rx="7.5" ry="7.5" transform="rotate(-270.0 80.2 280.8)" fill="url(#gk)" fill-opacity="0.24"/>
<ellipse cx="125.2" cy="222.3" rx="9.0" ry="9.0" transform="rotate(-30.0 125.2 222.3)" fill="url(#gw)" fill-opacity="0.37"/>
<ellipse cx="125.2" cy="274.3" rx="9.0" ry="9.0" transform="rotate(-330.0 125.2 274.3)" fill="url(#gw)" fill-opacity="0.37"/>
<ellipse cx="80.2" cy="196.3" rx="9.0" ry="9.0" transform="rotate(-90.0 80.2 196.3)" fill="url(#gw)" fill-opacity="0.37"/>
<ellipse cx="35.2" cy="222.3" rx="9.0" ry="9.0" transform="rotate(-150.0 35.2 222.3)" fill="url(#gw)" fill-opacity="0.37"/>
<ellipse cx="35.2" cy="274.3" rx="9.0" ry="9.0" transform="rotate(-210.0 35.2 274.3)" fill="url(#gw)" fill-opacity="0.37"/>
<ellipse cx="80.2" cy="300.3" rx="9.0" ry="9.0" transform="rotate(-270.0 80.2 300.3)" fill="url(#gw)" fill-opacity="0.37"/>
<ellipse cx="122.7" cy="248.3" rx="9.0" ry="10.5" transform="rotate(0.0 122.7 248.3)" fill="url(#gw)" fill-opacity="0.53"/>
<ellipse cx="101.5" cy="211.5" rx="9.0" ry="10.5" transform="rotate(-60.0 101.5 211.5)" fill="url(#gw)" fill-opacity="0.53"/>
<ellipse cx="59.0" cy="211.5" rx="9.0" ry="10.5" transform="rotate(-120.0 59.0 211.5)" fill="url(#gw)" fill-opacity="0.53"/>
<ellipse cx="37.7" cy="248.3" rx="9.0" ry="10.5" transform="rotate(-180.0 37.7 248.3)" fill="url(#gw)" fill-opacity="0.53"/>
<ellipse cx="58.9" cy="285.1" rx="9.0" ry="10.5" transform="rotate(-240.0 58.9 285.1)" fill="url(#gw)" fill-opacity="0.53"/>
<ellipse cx="101.5" cy="285.1" rx="9.0" ry="10.5" transform="rotate(-300.0 101.5 285.1)" fill="url(#gw)" fill-opacity="0.53"/>
<ellipse cx="130.9" cy="232.8" rx="9.0" ry="9.6" transform="rotate(-17.0 130.9 232.8)" fill="url(#gw)" fill-opacity="0.59"/>
<ellipse cx="130.9" cy="263.8" rx="9.0" ry="9.6" transform="rotate(-343.0 130.9 263.8)" fill="url(#gw)" fill-opacity="0.59"/>
<ellipse cx="92.1" cy="196.7" rx="9.0" ry="9.6" transform="rotate(-77.0 92.1 196.7)" fill="url(#gw)" fill-opacity="0.59"/>
<ellipse cx="119.0" cy="212.2" rx="9.0" ry="9.6" transform="rotate(-43.0 119.0 212.2)" fill="url(#gw)" fill-opacity="0.59"/>
<ellipse cx="41.4" cy="212.2" rx="9.0" ry="9.6" transform="rotate(-137.0 41.4 212.2)" fill="url(#gw)" fill-opacity="0.59"/>
<ellipse cx="68.3" cy="196.7" rx="9.0" ry="9.6" transform="rotate(-103.0 68.3 196.7)" fill="url(#gw)" fill-opacity="0.59"/>
<ellipse cx="29.5" cy="263.8" rx="9.0" ry="9.6" transform="rotate(-197.0 29.5 263.8)" fill="url(#gw)" fill-opacity="0.59"/>
<ellipse cx="29.5" cy="232.8" rx="9.0" ry="9.6" transform="rotate(-163.0 29.5 232.8)" fill="url(#gw)" fill-opacity="0.59"/>
<ellipse cx="68.3" cy="299.9" rx="9.0" ry="9.6" transform="rotate(-257.0 68.3 299.9)" fill="url(#gw)" fill-opacity="0.59"/>
<ellipse cx="41.4" cy="284.4" rx="9.0" ry="9.6" transform="rotate(-223.0 41.4 284.4)" fill="url(#gw)" fill-opacity="0.59"/>
<ellipse cx="119.0" cy="284.4" rx="9.0" ry="9.6" transform="rotate(-317.0 119.0 284.4)" fill="url(#gw)" fill-opacity="0.59"/>
<ellipse cx="92.1" cy="299.9" rx="9.0" ry="9.6" transform="rotate(-283.0 92.1 299.9)" fill="url(#gw)" fill-opacity="0.59"/>
<ellipse cx="109.7" cy="248.3" rx="9.6" ry="10.5" transform="rotate(0.0 109.7 248.3)" fill="url(#gw)" fill-opacity="0.67"/>
<ellipse cx="95.0" cy="222.8" rx="9.6" ry="10.5" transform="rotate(-60.0 95.0 222.8)" fill="url(#gw)" fill-opacity="0.67"/>
<ellipse cx="65.5" cy="222.8" rx="9.6" ry="10.5" transform="rotate(-120.0 65.5 222.8)" fill="url(#gw)" fill-opacity="0.67"/>
<ellipse cx="50.7" cy="248.3" rx="9.6" ry="10.5" transform="rotate(-180.0 50.7 248.3)" fill="url(#gw)" fill-opacity="0.67"/>
<ellipse cx="65.4" cy="273.8" rx="9.6" ry="10.5" transform="rotate(-240.0 65.4 273.8)" fill="url(#gw)" fill-opacity="0.67"/>
<ellipse cx="95.0" cy="273.8" rx="9.6" ry="10.5" transform="rotate(-300.0 95.0 273.8)" fill="url(#gw)" fill-opacity="0.67"/>
<ellipse cx="135.7" cy="248.3" rx="9.0" ry="21.0" transform="rotate(0.0 135.7 248.3)" fill="url(#gw)" fill-opacity="0.71"/>
<ellipse cx="108.0" cy="200.2" rx="9.0" ry="21.0" transform="rotate(-60.0 108.0 200.2)" fill="url(#gw)" fill-opacity="0.71"/>
<ellipse cx="52.5" cy="200.2" rx="9.0" ry="21.0" transform="rotate(-120.0 52.5 200.2)" fill="url(#gw)" fill-opacity="0.71"/>
<ellipse cx="24.7" cy="248.3" rx="9.0" ry="21.0" transform="rotate(-180.0 24.7 248.3)" fill="url(#gw)" fill-opacity="0.71"/>
<ellipse cx="52.4" cy="296.4" rx="9.0" ry="21.0" transform="rotate(-240.0 52.4 296.4)" fill="url(#gw)" fill-opacity="0.71"/>
<ellipse cx="108.0" cy="296.4" rx="9.0" ry="21.0" transform="rotate(-300.0 108.0 296.4)" fill="url(#gw)" fill-opacity="0.71"/>
<ellipse cx="96.2" cy="239.1" rx="15.0" ry="8.4" transform="rotate(-30.0 96.2 239.1)" fill="url(#gw)" fill-opacity="0.77"/>
<ellipse cx="96.2" cy="257.6" rx="15.0" ry="8.4" transform="rotate(-330.0 96.2 257.6)" fill="url(#gw)" fill-opacity="0.77"/>
<ellipse cx="80.2" cy="229.8" rx="15.0" ry="8.4" transform="rotate(-90.0 80.2 229.8)" fill="url(#gw)" fill-opacity="0.77"/>
<ellipse cx="64.2" cy="239.1" rx="15.0" ry="8.4" transform="rotate(-150.0 64.2 239.1)" fill="url(#gw)" fill-opacity="0.77"/>
<ellipse cx="64.2" cy="257.6" rx="15.0" ry="8.4" transform="rotate(-210.0 64.2 257.6)" fill="url(#gw)" fill-opacity="0.77"/>
<ellipse cx="80.2" cy="266.8" rx="15.0" ry="8.4" transform="rotate(-270.0 80.2 266.8)" fill="url(#gw)" fill-opacity="0.77"/>
<ellipse cx="130.9" cy="219.1" rx="9.0" ry="12.6" transform="rotate(-30.0 130.9 219.1)" fill="url(#gw)" fill-opacity="1.00"/>
<ellipse cx="130.9" cy="277.6" rx="9.0" ry="12.6" transform="rotate(-330.0 130.9 277.6)" fill="url(#gw)" fill-opacity="1.00"/>
<ellipse cx="80.2" cy="189.8" rx="9.0" ry="12.6" transform="rotate(-90.0 80.2 189.8)" fill="url(#gw)" fill-opacity="1.00"/>
<ellipse cx="29.5" cy="219.1" rx="9.0" ry="12.6" transform="rotate(-150.0 29.5 219.1)" fill="url(#gw)" fill-opacity="1.00"/>
<ellipse cx="29.5" cy="277.6" rx="9.0" ry="12.6" transform="rotate(-210.0 29.5 277.6)" fill="url(#gw)" fill-opacity="1.00"/>
<ellipse cx="80.2" cy="306.8" rx="9.0" ry="12.6" transform="rotate(-270.0 80.2 306.8)" fill="url(#gw)" fill-opacity="1.00"/>
<ellipse cx="118.3" cy="226.3" rx="16.5" ry="11.4" transform="rotate(-30.0 118.3 226.3)" fill="url(#gw)" fill-opacity="1.00"/>
<ellipse cx="118.3" cy="270.3" rx="16.5" ry="11.4" transform="rotate(-330.0 118.3 270.3)" fill="url(#gw)" fill-opacity="1.00"/>
<ellipse cx="80.2" cy="204.3" rx="16.5" ry="11.4" transform="rotate(-90.0 80.2 204.3)" fill="url(#gw)" fill-opacity="1.00"/>
<ellipse cx="42.1" cy="226.3" rx="16.5" ry="11.4" transform="rotate(-150.0 42.1 226.3)" fill="url(#gw)" fill-opacity="1.00"/>
<ellipse cx="42.1" cy="270.3" rx="16.5" ry="11.4" transform="rotate(-210.0 42.1 270.3)" fill="url(#gw)" fill-opacity="1.00"/>
<ellipse cx="80.2" cy="292.3" rx="16.5" ry="11.4" transform="rotate(-270.0 80.2 292.3)" fill="url(#gw)" fill-opacity="1.00"/>
</g></g>
<g clip-path="url(#c3)"><g filter="url(#inf)">
<rect x="210.7" y="185.4" width="125.0" height="125.0" fill="#404040"/>
<ellipse cx="330.6" cy="230.4" rx="7.5" ry="10.5" transform="rotate(-17.0 330.6 230.4)" fill="url(#gk)" fill-opacity="1.00"/>
<ellipse cx="330.6" cy="265.4" rx="7.5" ry="10.5" transform="rotate(-343.0 330.6 265.4)" fill="url(#gk)" fill-opacity="1.00"/>
<ellipse cx="286.7" cy="189.4" rx="7.5" ry="10.5" transform="rotate(-77.0 286.7 189.4)" fill="url(#gk)" fill-opacity="1.00"/>
<ellipse cx="317.1" cy="207.0" rx="7.5" ry="10.5" transform="rotate(-43.0 317.1 207.0)" fill="url(#gk)" fill-opacity="1.00"/>
<ellipse cx="229.3" cy="207.0" rx="7.5" ry="10.5" transform="rotate(-137.0 229.3 207.0)" fill="url(#gk)" fill-opacity="1.00"/>
<ellipse cx="259.7" cy="189.4" rx="7.5" ry="10.5" transform="rotate(-103.0 259.7 189.4)" fill="url(#gk)" fill-opacity="1.00"/>
<ellipse cx="215.8" cy="265.4" rx="7.5" ry="10.5" transform="rotate(-197.0 215.8 265.4)" fill="url(#gk)" fill-opacity="1.00"/>
<ellipse cx="215.8" cy="230.4" rx="7.5" ry="10.5" transform="rotate(-163.0 215.8 230.4)" fill="url(#gk)" fill-opacity="1.00"/>
<ellipse cx="259.7" cy="306.4" rx="7.5" ry="10.5" transform="rotate(-257.0 259.7 306.4)" fill="url(#gk)" fill-opacity="1.00"/>
<ellipse cx="229.3" cy="288.8" rx="7.5" ry="10.5" transform="rotate(-223.0 229.3 288.8)" fill="url(#gk)" fill-opacity="1.00"/>
<ellipse cx="317.1" cy="288.8" rx="7.5" ry="10.5" transform="rotate(-317.0 317.1 288.8)" fill="url(#gk)" fill-opacity="1.00"/>
<ellipse cx="286.7" cy="306.4" rx="7.5" ry="10.5" transform="rotate(-283.0 286.7 306.4)" fill="url(#gk)" fill-opacity="1.00"/>
<ellipse cx="315.5" cy="235.8" rx="9.6" ry="9.6" transform="rotate(-16.0 315.5 235.8)" fill="url(#gk)" fill-opacity="0.88"/>
<ellipse cx="315.5" cy="260.0" rx="9.6" ry="9.6" transform="rotate(-344.0 315.5 260.0)" fill="url(#gk)" fill-opacity="0.88"/>
<ellipse cx="283.8" cy="205.2" rx="9.6" ry="9.6" transform="rotate(-76.0 283.8 205.2)" fill="url(#gk)" fill-opacity="0.88"/>
<ellipse cx="304.9" cy="217.3" rx="9.6" ry="9.6" transform="rotate(-44.0 304.9 217.3)" fill="url(#gk)" fill-opacity="0.88"/>
<ellipse cx="241.5" cy="217.3" rx="9.6" ry="9.6" transform="rotate(-136.0 241.5 217.3)" fill="url(#gk)" fill-opacity="0.88"/>
<ellipse cx="262.6" cy="205.2" rx="9.6" ry="9.6" transform="rotate(-104.0 262.6 205.2)" fill="url(#gk)" fill-opacity="0.88"/>
<ellipse cx="230.9" cy="260.0" rx="9.6" ry="9.6" transform="rotate(-196.0 230.9 260.0)" fill="url(#gk)" fill-opacity="0.88"/>
<ellipse cx="230.9" cy="235.8" rx="9.6" ry="9.6" transform="rotate(-164.0 230.9 235.8)" fill="url(#gk)" fill-opacity="0.88"/>
<ellipse cx="262.6" cy="290.6" rx="9.6" ry="9.6" transform="rotate(-256.0 262.6 290.6)" fill="url(#gk)" fill-opacity="0.88"/>
<ellipse cx="241.5" cy="278.5" rx="9.6" ry="9.6" transform="rotate(-224.0 241.5 278.5)" fill="url(#gk)" fill-opacity="0.88"/>
<ellipse cx="304.9" cy="278.5" rx="9.6" ry="9.6" transform="rotate(-316.0 304.9 278.5)" fill="url(#gk)" fill-opacity="0.88"/>
<ellipse cx="283.8" cy="290.6" rx="9.6" ry="9.6" transform="rotate(-284.0 283.8 290.6)" fill="url(#gk)" fill-opacity="0.88"/>
<ellipse cx="287.2" cy="247.9" rx="9.0" ry="9.0" transform="rotate(0.0 287.2 247.9)" fill="url(#gk)" fill-opacity="0.24"/>
<ellipse cx="280.2" cy="235.8" rx="9.0" ry="9.0" transform="rotate(-60.0 280.2 235.8)" fill="url(#gk)" fill-opacity="0.24"/>
<ellipse cx="266.2" cy="235.8" rx="9.0" ry="9.0" transform="rotate(-120.0 266.2 235.8)" fill="url(#gk)" fill-opacity="0.24"/>
<ellipse cx="259.2" cy="247.9" rx="9.0" ry="9.0" transform="rotate(-180.0 259.2 247.9)" fill="url(#gk)" fill-opacity="0.24"/>
<ellipse cx="266.2" cy="260.0" rx="9.0" ry="9.0" transform="rotate(-240.0 266.2 260.0)" fill="url(#gk)" fill-opacity="0.24"/>
<ellipse cx="280.2" cy="260.0" rx="9.0" ry="9.0" transform="rotate(-300.0 280.2 260.0)" fill="url(#gk)" fill-opacity="0.24"/>
<ellipse cx="301.3" cy="231.7" rx="7.5" ry="7.5" transform="rotate(-30.0 301.3 231.7)" fill="url(#gk)" fill-opacity="0.24"/>
<ellipse cx="301.3" cy="264.2" rx="7.5" ry="7.5" transform="rotate(-330.0 301.3 264.2)" fill="url(#gk)" fill-opacity="0.24"/>
<ellipse cx="273.2" cy="215.4" rx="7.5" ry="7.5" transform="rotate(-90.0 273.2 215.4)" fill="url(#gk)" fill-opacity="0.24"/>
<ellipse cx="245.1" cy="231.7" rx="7.5" ry="7.5" transform="rotate(-150.0 245.1 231.7)" fill="url(#gk)" fill-opacity="0.24"/>
<ellipse cx="245.1" cy="264.2" rx="7.5" ry="7.5" transform="rotate(-210.0 245.1 264.2)" fill="url(#gk)" fill-opacity="0.24"/>
<ellipse cx="273.2" cy="280.4" rx="7.5" ry="7.5" transform="rotate(-270.0 273.2 280.4)" fill="url(#gk)" fill-opacity="0.24"/>
<ellipse cx="318.5" cy="226.8" rx="9.0" ry="7.5" transform="rotate(-25.0 318.5 226.8)" fill="url(#gw)" fill-opacity="0.27"/>
<ellipse cx="318.5" cy="269.0" rx="9.0" ry="7.5" transform="rotate(-335.0 318.5 269.0)" fill="url(#gw)" fill-opacity="0.27"/>
<ellipse cx="277.6" cy="198.1" rx="9.0" ry="7.5" transform="rotate(-85.0 277.6 198.1)" fill="url(#gw)" fill-opacity="0.27"/>
<ellipse cx="314.2" cy="219.2" rx="9.0" ry="7.5" transform="rotate(-35.0 314.2 219.2)" fill="url(#gw)" fill-opacity="0.27"/>
<ellipse cx="232.2" cy="219.2" rx="9.0" ry="7.5" transform="rotate(-145.0 232.2 219.2)" fill="url(#gw)" fill-opacity="0.27"/>
<ellipse cx="268.8" cy="198.1" rx="9.0" ry="7.5" transform="rotate(-95.0 268.8 198.1)" fill="url(#gw)" fill-opacity="0.27"/>
<ellipse cx="227.9" cy="269.0" rx="9.0" ry="7.5" transform="rotate(-205.0 227.9 269.0)" fill="url(#gw)" fill-opacity="0.27"/>
<ellipse cx="227.9" cy="226.8" rx="9.0" ry="7.5" transform="rotate(-155.0 227.9 226.8)" fill="url(#gw)" fill-opacity="0.27"/>
<ellipse cx="268.8" cy="297.7" rx="9.0" ry="7.5" transform="rotate(-265.0 268.8 297.7)" fill="url(#gw)" fill-opacity="0.27"/>
<ellipse cx="232.2" cy="276.6" rx="9.0" ry="7.5" transform="rotate(-215.0 232.2 276.6)" fill="url(#gw)" fill-opacity="0.27"/>
<ellipse cx="314.2" cy="276.6" rx="9.0" ry="7.5" transform="rotate(-325.0 314.2 276.6)" fill="url(#gw)" fill-opacity="0.27"/>
<ellipse cx="277.6" cy="297.7" rx="9.0" ry="7.5" transform="rotate(-275.0 277.6 297.7)" fill="url(#gw)" fill-opacity="0.27"/>
<ellipse cx="317.8" cy="222.2" rx="9.0" ry="9.0" transform="rotate(-30.0 317.8 222.2)" fill="url(#gw)" fill-opacity="0.37"/>
<ellipse cx="317.8" cy="273.7" rx="9.0" ry="9.0" transform="rotate(-330.0 317.8 273.7)" fill="url(#gw)" fill-opacity="0.37"/>
<ellipse cx="273.2" cy="196.4" rx="9.0" ry="9.0" transform="rotate(-90.0 273.2 196.4)" fill="url(#gw)" fill-opacity="0.37"/>
<ellipse cx="228.6" cy="222.2" rx="9.0" ry="9.0" transform="rotate(-150.0 228.6 222.2)" fill="url(#gw)" fill-opacity="0.37"/>
<ellipse cx="228.6" cy="273.7" rx="9.0" ry="9.0" transform="rotate(-210.0 228.6 273.7)" fill="url(#gw)" fill-opacity="0.37"/>
<ellipse cx="273.2" cy="299.4" rx="9.0" ry="9.0" transform="rotate(-270.0 273.2 299.4)" fill="url(#gw)" fill-opacity="0.37"/>
<ellipse cx="314.7" cy="247.9" rx="9.0" ry="10.5" transform="rotate(0.0 314.7 247.9)" fill="url(#gw)" fill-opacity="0.48"/>
<ellipse cx="293.9" cy="212.0" rx="9.0" ry="10.5" transform="rotate(-60.0 293.9 212.0)" fill="url(#gw)" fill-opacity="0.48"/>
<ellipse cx="252.4" cy="212.0" rx="9.0" ry="10.5" transform="rotate(-120.0 252.4 212.0)" fill="url(#gw)" fill-opacity="0.48"/>
<ellipse cx="231.7" cy="247.9" rx="9.0" ry="10.5" transform="rotate(-180.0 231.7 247.9)" fill="url(#gw)" fill-opacity="0.48"/>
<ellipse cx="252.4" cy="283.8" rx="9.0" ry="10.5" transform="rotate(-240.0 252.4 283.8)" fill="url(#gw)" fill-opacity="0.48"/>
<ellipse cx="293.9" cy="283.8" rx="9.0" ry="10.5" transform="rotate(-300.0 293.9 283.8)" fill="url(#gw)" fill-opacity="0.48"/>
<ellipse cx="322.7" cy="231.8" rx="9.0" ry="9.6" transform="rotate(-18.0 322.7 231.8)" fill="url(#gw)" fill-opacity="0.53"/>
<ellipse cx="322.7" cy="264.0" rx="9.0" ry="9.6" transform="rotate(-342.0 322.7 264.0)" fill="url(#gw)" fill-opacity="0.53"/>
<ellipse cx="284.0" cy="197.0" rx="9.0" ry="9.6" transform="rotate(-78.0 284.0 197.0)" fill="url(#gw)" fill-opacity="0.53"/>
<ellipse cx="311.8" cy="213.1" rx="9.0" ry="9.6" transform="rotate(-42.0 311.8 213.1)" fill="url(#gw)" fill-opacity="0.53"/>
<ellipse cx="234.6" cy="213.1" rx="9.0" ry="9.6" transform="rotate(-138.0 234.6 213.1)" fill="url(#gw)" fill-opacity="0.53"/>
<ellipse cx="262.4" cy="197.0" rx="9.0" ry="9.6" transform="rotate(-102.0 262.4 197.0)" fill="url(#gw)" fill-opacity="0.53"/>
<ellipse cx="223.7" cy="264.0" rx="9.0" ry="9.6" transform="rotate(-198.0 223.7 264.0)" fill="url(#gw)" fill-opacity="0.53"/>
<ellipse cx="223.7" cy="231.8" rx="9.0" ry="9.6" transform="rotate(-162.0 223.7 231.8)" fill="url(#gw)" fill-opacity="0.53"/>
<ellipse cx="262.4" cy="298.8" rx="9.0" ry="9.6" transform="rotate(-258.0 262.4 298.8)" fill="url(#gw)" fill-opacity="0.53"/>
<ellipse cx="234.6" cy="282.7" rx="9.0" ry="9.6" transform="rotate(-222.0 234.6 282.7)" fill="url(#gw)" fill-opacity="0.53"/>
<ellipse cx="311.8" cy="282.7" rx="9.0" ry="9.6" transform="rotate(-318.0 311.8 282.7)" fill="url(#gw)" fill-opacity="0.53"/>
<ellipse cx="284.0" cy="298.8" rx="9.0" ry="9.6" transform="rotate(-282.0 284.0 298.8)" fill="url(#gw)" fill-opacity="0.53"/>
<ellipse cx="301.7" cy="247.9" rx="9.6" ry="10.5" transform="rotate(0.0 301.7 247.9)" fill="url(#gw)" fill-opacity="0.67"/>
<ellipse cx="287.4" cy="223.2" rx="9.6" ry="10.5" transform="rotate(-60.0 287.4 223.2)" fill="url(#gw)" fill-opacity="0.67"/>
<ellipse cx="258.9" cy="223.2" rx="9.6" ry="10.5" transform="rotate(-120.0 258.9 223.2)" fill="url(#gw)" fill-opacity="0.67"/>
<ellipse cx="244.7" cy="247.9" rx="9.6" ry="10.5" transform="rotate(-180.0 244.7 247.9)" fill="url(#gw)" fill-opacity="0.67"/>
<ellipse cx="258.9" cy="272.6" rx="9.6" ry="10.5" transform="rotate(-240.0 258.9 272.6)" fill="url(#gw)" fill-opacity="0.67"/>
<ellipse cx="287.4" cy="272.6" rx="9.6" ry="10.5" transform="rotate(-300.0 287.4 272.6)" fill="url(#gw)" fill-opacity="0.67"/>
<ellipse cx="328.7" cy="247.9" rx="9.0" ry="21.0" transform="rotate(0.0 328.7 247.9)" fill="url(#gw)" fill-opacity="0.67"/>
<ellipse cx="300.9" cy="199.8" rx="9.0" ry="21.0" transform="rotate(-60.0 300.9 199.8)" fill="url(#gw)" fill-opacity="0.67"/>
<ellipse cx="245.4" cy="199.8" rx="9.0" ry="21.0" transform="rotate(-120.0 245.4 199.8)" fill="url(#gw)" fill-opacity="0.67"/>
<ellipse cx="217.7" cy="247.9" rx="9.0" ry="21.0" transform="rotate(-180.0 217.7 247.9)" fill="url(#gw)" fill-opacity="0.67"/>
<ellipse cx="245.4" cy="296.0" rx="9.0" ry="21.0" transform="rotate(-240.0 245.4 296.0)" fill="url(#gw)" fill-opacity="0.67"/>
<ellipse cx="300.9" cy="296.0" rx="9.0" ry="21.0" transform="rotate(-300.0 300.9 296.0)" fill="url(#gw)" fill-opacity="0.67"/>
<ellipse cx="289.2" cy="238.7" rx="15.0" ry="8.4" transform="rotate(-30.0 289.2 238.7)" fill="url(#gw)" fill-opacity="0.75"/>
<ellipse cx="289.2" cy="257.2" rx="15.0" ry="8.4" transform="rotate(-330.0 289.2 257.2)" fill="url(#gw)" fill-opacity="0.75"/>
<ellipse cx="273.2" cy="229.4" rx="15.0" ry="8.4" transform="rotate(-90.0 273.2 229.4)" fill="url(#gw)" fill-opacity="0.75"/>
<ellipse cx="257.2" cy="238.7" rx="15.0" ry="8.4" transform="rotate(-150.0 257.2 238.7)" fill="url(#gw)" fill-opacity="0.75"/>
<ellipse cx="257.2" cy="257.2" rx="15.0" ry="8.4" transform="rotate(-210.0 257.2 257.2)" fill="url(#gw)" fill-opacity="0.75"/>
<ellipse cx="273.2" cy="266.4" rx="15.0" ry="8.4" transform="rotate(-270.0 273.2 266.4)" fill="url(#gw)" fill-opacity="0.75"/>
<ellipse cx="324.1" cy="218.5" rx="9.0" ry="13.5" transform="rotate(-30.0 324.1 218.5)" fill="url(#gw)" fill-opacity="0.91"/>
<ellipse cx="324.1" cy="277.3" rx="9.0" ry="13.5" transform="rotate(-330.0 324.1 277.3)" fill="url(#gw)" fill-opacity="0.91"/>
<ellipse cx="273.2" cy="189.1" rx="9.0" ry="13.5" transform="rotate(-90.0 273.2 189.1)" fill="url(#gw)" fill-opacity="0.91"/>
<ellipse cx="222.3" cy="218.5" rx="9.0" ry="13.5" transform="rotate(-150.0 222.3 218.5)" fill="url(#gw)" fill-opacity="0.91"/>
<ellipse cx="222.3" cy="277.3" rx="9.0" ry="13.5" transform="rotate(-210.0 222.3 277.3)" fill="url(#gw)" fill-opacity="0.91"/>
<ellipse cx="273.2" cy="306.7" rx="9.0" ry="13.5" transform="rotate(-270.0 273.2 306.7)" fill="url(#gw)" fill-opacity="0.91"/>
<ellipse cx="310.9" cy="226.2" rx="16.5" ry="11.4" transform="rotate(-30.0 310.9 226.2)" fill="url(#gw)" fill-opacity="0.96"/>
<ellipse cx="310.9" cy="269.7" rx="16.5" ry="11.4" transform="rotate(-330.0 310.9 269.7)" fill="url(#gw)" fill-opacity="0.96"/>
<ellipse cx="273.2" cy="204.4" rx="16.5" ry="11.4" transform="rotate(-90.0 273.2 204.4)" fill="url(#gw)" fill-opacity="0.96"/>
<ellipse cx="235.5" cy="226.2" rx="16.5" ry="11.4" transform="rotate(-150.0 235.5 226.2)" fill="url(#gw)" fill-opacity="0.96"/>
<ellipse cx="235.5" cy="269.7" rx="16.5" ry="11.4" transform="rotate(-210.0 235.5 269.7)" fill="url(#gw)" fill-opacity="0.96"/>
<ellipse cx="273.2" cy="291.4" rx="16.5" ry="11.4" transform="rotate(-270.0 273.2 291.4)" fill="url(#gw)" fill-opacity="0.96"/>
</g></g>
</svg>
<canvas id="cv" width="375" height="651"></canvas>
<svg width="375" height="651" viewBox="0 0 375 651">
<defs><linearGradient id="cb" x1="0" y1="0" x2="0" y2="1"><stop offset="0.000" stop-color="#010005"/><stop offset="0.031" stop-color="#f3f68a"/><stop offset="0.062" stop-color="#f2ea69"/><stop offset="0.094" stop-color="#f5db4c"/><stop offset="0.125" stop-color="#f9cb35"/><stop offset="0.156" stop-color="#fbbc21"/><stop offset="0.188" stop-color="#fcac11"/><stop offset="0.219" stop-color="#fb9d07"/><stop offset="0.250" stop-color="#f98e09"/><stop offset="0.281" stop-color="#f68013"/><stop offset="0.312" stop-color="#f1731d"/><stop offset="0.344" stop-color="#eb6628"/><stop offset="0.375" stop-color="#e45a31"/><stop offset="0.406" stop-color="#db503b"/><stop offset="0.438" stop-color="#d24644"/><stop offset="0.469" stop-color="#c73e4c"/><stop offset="0.500" stop-color="#bc3754"/><stop offset="0.531" stop-color="#b0315b"/><stop offset="0.562" stop-color="#a32c61"/><stop offset="0.594" stop-color="#972766"/><stop offset="0.625" stop-color="#8a226a"/><stop offset="0.656" stop-color="#7d1e6d"/><stop offset="0.688" stop-color="#71196e"/><stop offset="0.719" stop-color="#64156e"/><stop offset="0.750" stop-color="#57106e"/><stop offset="0.781" stop-color="#4a0c6b"/><stop offset="0.812" stop-color="#3d0965"/><stop offset="0.844" stop-color="#2f0a5b"/><stop offset="0.875" stop-color="#210c4a"/><stop offset="0.906" stop-color="#150b37"/><stop offset="0.938" stop-color="#0b0724"/><stop offset="0.969" stop-color="#040312"/><stop offset="1.000" stop-color="#000004"/></linearGradient></defs>
<g stroke="#fff" stroke-opacity="0.33" stroke-width="0.5" fill="none">
<circle cx="77.70" cy="73.70" r="8.70"/>
<circle cx="77.70" cy="73.70" r="18.00"/>
<circle cx="77.70" cy="73.70" r="27.30"/>
<circle cx="77.70" cy="73.70" r="36.60"/>
<circle cx="77.70" cy="73.70" r="45.90"/>
<circle cx="77.70" cy="73.70" r="55.30"/>
<line x1="83.10" y1="73.70" x2="139.20" y2="73.70"/>
<line x1="81.52" y1="69.88" x2="121.19" y2="30.21"/>
<line x1="77.70" y1="68.30" x2="77.70" y2="12.20"/>
<line x1="73.88" y1="69.88" x2="34.21" y2="30.21"/>
<line x1="72.30" y1="73.70" x2="16.20" y2="73.70"/>
<line x1="73.88" y1="77.52" x2="34.21" y2="117.19"/>
<line x1="77.70" y1="79.10" x2="77.70" y2="135.20"/>
<line x1="81.52" y1="77.52" x2="121.19" y2="117.19"/>
</g>
<circle cx="77.70" cy="73.70" r="61.20" fill="none" stroke="#000" stroke-opacity="0.75" stroke-width="0.6"/>
<circle cx="77.70" cy="73.70" r="5.40" fill="#fff"/>
<text x="145.7" y="76.2" font-family="Liberation Serif, serif" font-size="7.2" text-anchor="middle" fill="#222">0<tspan font-size="5.6" dy="-2.0">°</tspan></text>
<text x="125.8" y="28.1" font-family="Liberation Serif, serif" font-size="7.2" text-anchor="middle" fill="#222">45<tspan font-size="5.6" dy="-2.0">°</tspan></text>
<text x="77.7" y="8.2" font-family="Liberation Serif, serif" font-size="7.2" text-anchor="middle" fill="#222">90<tspan font-size="5.6" dy="-2.0">°</tspan></text>
<text x="29.6" y="28.1" font-family="Liberation Serif, serif" font-size="7.2" text-anchor="middle" fill="#222">135<tspan font-size="5.6" dy="-2.0">°</tspan></text>
<text x="9.7" y="76.2" font-family="Liberation Serif, serif" font-size="7.2" text-anchor="middle" fill="#222">180<tspan font-size="5.6" dy="-2.0">°</tspan></text>
<text x="29.6" y="124.3" font-family="Liberation Serif, serif" font-size="7.2" text-anchor="middle" fill="#222">225<tspan font-size="5.6" dy="-2.0">°</tspan></text>
<text x="77.7" y="144.2" font-family="Liberation Serif, serif" font-size="7.2" text-anchor="middle" fill="#222">270<tspan font-size="5.6" dy="-2.0">°</tspan></text>
<text x="125.8" y="124.3" font-family="Liberation Serif, serif" font-size="7.2" text-anchor="middle" fill="#222">315<tspan font-size="5.6" dy="-2.0">°</tspan></text>
<text x="91.1" y="72.2" font-family="Liberation Serif, serif" font-size="7.0" text-anchor="middle" fill="#fff">10</text>
<text x="100.3" y="72.2" font-family="Liberation Serif, serif" font-size="7.0" text-anchor="middle" fill="#fff">20</text>
<text x="109.5" y="72.2" font-family="Liberation Serif, serif" font-size="7.0" text-anchor="middle" fill="#fff">30</text>
<text x="119.2" y="72.2" font-family="Liberation Serif, serif" font-size="7.0" text-anchor="middle" fill="#fff">40</text>
<text x="128.0" y="72.2" font-family="Liberation Serif, serif" font-size="7.0" text-anchor="middle" fill="#fff">50</text>
<text x="136.7" y="72.2" font-family="Liberation Serif, serif" font-size="7.0" text-anchor="middle" fill="#fff">60</text>
<text x="111.9" y="80.0" font-family="Liberation Serif, serif" font-size="7.0" text-anchor="middle" fill="#fff"><tspan font-style="italic">θ</tspan>(°)</text>
<rect x="149.10" y="12.20" width="6.60" height="123.50" fill="url(#cb)" stroke="#444" stroke-width="0.3"/>
<line x1="155.70" y1="12.70" x2="157.30" y2="12.70" stroke="#000" stroke-width="0.4"/>
<text x="157.70" y="15.20" font-family="Liberation Serif, serif" font-size="7.6" fill="#111">0.6</text>
<line x1="155.70" y1="37.36" x2="157.30" y2="37.36" stroke="#000" stroke-width="0.4"/>
<text x="157.70" y="39.86" font-family="Liberation Serif, serif" font-size="7.6" fill="#111">0.4</text>
<line x1="155.70" y1="62.02" x2="157.30" y2="62.02" stroke="#000" stroke-width="0.4"/>
<text x="157.70" y="64.52" font-family="Liberation Serif, serif" font-size="7.6" fill="#111">0.2</text>
<line x1="155.70" y1="86.68" x2="157.30" y2="86.68" stroke="#000" stroke-width="0.4"/>
<text x="157.70" y="89.18" font-family="Liberation Serif, serif" font-size="7.6" fill="#111">0.0</text>
<line x1="155.70" y1="111.34" x2="157.30" y2="111.34" stroke="#000" stroke-width="0.4"/>
<text x="157.70" y="113.84" font-family="Liberation Serif, serif" font-size="7.6" fill="#111">−0.2</text>
<line x1="155.70" y1="136.00" x2="157.30" y2="136.00" stroke="#000" stroke-width="0.4"/>
<text x="157.70" y="138.50" font-family="Liberation Serif, serif" font-size="7.6" fill="#111">−0.4</text>
<text x="5.5" y="14.8" font-family="Liberation Serif, serif" font-size="20" fill="#000">(a)</text>
<text x="23.1" y="159.6" font-family="Liberation Serif, serif" font-size="16.5" textLength="22.6" lengthAdjust="spacingAndGlyphs" fill="#000">2H</text>
<text x="46.0" y="161.6" font-family="Liberation Serif, serif" font-size="10.2" fill="#000">a</text>
<text x="52.4" y="159.1" font-family="Liberation Serif, serif" font-size="16.5" fill="#000">’</text>
<rect x="60.7" y="154.3" width="10.4" height="0.9" fill="#000"/>
<text x="78.9" y="159.6" font-family="Liberation Serif, serif" font-size="16.5" textLength="57.4" lengthAdjust="spacingAndGlyphs" fill="#000">R=0.67</text>
<g stroke="#fff" stroke-opacity="0.33" stroke-width="0.5" fill="none">
<circle cx="276.70" cy="73.70" r="8.70"/>
<circle cx="276.70" cy="73.70" r="18.00"/>
<circle cx="276.70" cy="73.70" r="27.30"/>
<circle cx="276.70" cy="73.70" r="36.60"/>
<circle cx="276.70" cy="73.70" r="45.90"/>
<circle cx="276.70" cy="73.70" r="55.30"/>
<line x1="282.10" y1="73.70" x2="338.30" y2="73.70"/>
<line x1="280.52" y1="69.88" x2="320.26" y2="30.14"/>
<line x1="276.70" y1="68.30" x2="276.70" y2="12.10"/>
<line x1="272.88" y1="69.88" x2="233.14" y2="30.14"/>
<line x1="271.30" y1="73.70" x2="215.10" y2="73.70"/>
<line x1="272.88" y1="77.52" x2="233.14" y2="117.26"/>
<line x1="276.70" y1="79.10" x2="276.70" y2="135.30"/>
<line x1="280.52" y1="77.52" x2="320.26" y2="117.26"/>
</g>
<circle cx="276.70" cy="73.70" r="61.30" fill="none" stroke="#000" stroke-opacity="0.75" stroke-width="0.6"/>
<circle cx="276.70" cy="73.70" r="5.40" fill="#fff"/>
<text x="344.7" y="76.2" font-family="Liberation Serif, serif" font-size="7.2" text-anchor="middle" fill="#222">0<tspan font-size="5.6" dy="-2.0">°</tspan></text>
<text x="324.8" y="28.1" font-family="Liberation Serif, serif" font-size="7.2" text-anchor="middle" fill="#222">45<tspan font-size="5.6" dy="-2.0">°</tspan></text>
<text x="276.7" y="8.2" font-family="Liberation Serif, serif" font-size="7.2" text-anchor="middle" fill="#222">90<tspan font-size="5.6" dy="-2.0">°</tspan></text>
<text x="228.6" y="28.1" font-family="Liberation Serif, serif" font-size="7.2" text-anchor="middle" fill="#222">135<tspan font-size="5.6" dy="-2.0">°</tspan></text>
<text x="208.7" y="76.2" font-family="Liberation Serif, serif" font-size="7.2" text-anchor="middle" fill="#222">180<tspan font-size="5.6" dy="-2.0">°</tspan></text>
<text x="228.6" y="124.3" font-family="Liberation Serif, serif" font-size="7.2" text-anchor="middle" fill="#222">225<tspan font-size="5.6" dy="-2.0">°</tspan></text>
<text x="276.7" y="144.2" font-family="Liberation Serif, serif" font-size="7.2" text-anchor="middle" fill="#222">270<tspan font-size="5.6" dy="-2.0">°</tspan></text>
<text x="324.8" y="124.3" font-family="Liberation Serif, serif" font-size="7.2" text-anchor="middle" fill="#222">315<tspan font-size="5.6" dy="-2.0">°</tspan></text>
<text x="290.1" y="72.2" font-family="Liberation Serif, serif" font-size="7.0" text-anchor="middle" fill="#fff">10</text>
<text x="299.3" y="72.2" font-family="Liberation Serif, serif" font-size="7.0" text-anchor="middle" fill="#fff">20</text>
<text x="308.5" y="72.2" font-family="Liberation Serif, serif" font-size="7.0" text-anchor="middle" fill="#fff">30</text>
<text x="318.2" y="72.2" font-family="Liberation Serif, serif" font-size="7.0" text-anchor="middle" fill="#fff">40</text>
<text x="327.0" y="72.2" font-family="Liberation Serif, serif" font-size="7.0" text-anchor="middle" fill="#fff">50</text>
<text x="335.7" y="72.2" font-family="Liberation Serif, serif" font-size="7.0" text-anchor="middle" fill="#fff">60</text>
<text x="310.9" y="80.0" font-family="Liberation Serif, serif" font-size="7.0" text-anchor="middle" fill="#fff"><tspan font-style="italic">θ</tspan>(°)</text>
<rect x="347.60" y="12.40" width="7.30" height="123.10" fill="url(#cb)" stroke="#444" stroke-width="0.3"/>
<line x1="354.90" y1="12.70" x2="356.50" y2="12.70" stroke="#000" stroke-width="0.4"/>
<text x="356.90" y="15.20" font-family="Liberation Serif, serif" font-size="7.6" fill="#111">0.6</text>
<line x1="354.90" y1="38.60" x2="356.50" y2="38.60" stroke="#000" stroke-width="0.4"/>
<text x="356.90" y="41.10" font-family="Liberation Serif, serif" font-size="7.6" fill="#111">0.4</text>
<line x1="354.90" y1="64.50" x2="356.50" y2="64.50" stroke="#000" stroke-width="0.4"/>
<text x="356.90" y="67.00" font-family="Liberation Serif, serif" font-size="7.6" fill="#111">0.2</text>
<line x1="354.90" y1="90.40" x2="356.50" y2="90.40" stroke="#000" stroke-width="0.4"/>
<text x="356.90" y="92.90" font-family="Liberation Serif, serif" font-size="7.6" fill="#111">0.0</text>
<line x1="354.90" y1="116.30" x2="356.50" y2="116.30" stroke="#000" stroke-width="0.4"/>
<text x="356.90" y="118.80" font-family="Liberation Serif, serif" font-size="7.6" fill="#111">−0.2</text>
<text x="194.0" y="13.0" font-family="Liberation Serif, serif" font-size="20" fill="#000">(b)</text>
<text x="224.7" y="160.3" font-family="Liberation Serif, serif" font-size="16.5" textLength="23.0" lengthAdjust="spacingAndGlyphs" fill="#000">2H</text>
<text x="248.0" y="162.3" font-family="Liberation Serif, serif" font-size="10.2" fill="#000">a</text>
<text x="253.4" y="159.8" font-family="Liberation Serif, serif" font-size="16.5" fill="#000">’’</text>
<rect x="268.5" y="155.0" width="7.1" height="0.9" fill="#000"/>
<text x="282.5" y="160.3" font-family="Liberation Serif, serif" font-size="16.5" textLength="57.7" lengthAdjust="spacingAndGlyphs" fill="#000">R=0.10</text>
<ellipse cx="297.8" cy="37.1" rx="15.8" ry="8.8" transform="rotate(28.5 297.8 37.1)" fill="none" stroke="#f7ef5a" stroke-width="1.6"/>
<g stroke="#fff" stroke-opacity="0.33" stroke-width="0.5" fill="none">
<circle cx="80.20" cy="248.30" r="8.70"/>
<circle cx="80.20" cy="248.30" r="18.00"/>
<circle cx="80.20" cy="248.30" r="27.30"/>
<circle cx="80.20" cy="248.30" r="36.60"/>
<circle cx="80.20" cy="248.30" r="45.90"/>
<circle cx="80.20" cy="248.30" r="55.30"/>
<line x1="85.60" y1="248.30" x2="141.70" y2="248.30"/>
<line x1="84.02" y1="244.48" x2="123.69" y2="204.81"/>
<line x1="80.20" y1="242.90" x2="80.20" y2="186.80"/>
<line x1="76.38" y1="244.48" x2="36.71" y2="204.81"/>
<line x1="74.80" y1="248.30" x2="18.70" y2="248.30"/>
<line x1="76.38" y1="252.12" x2="36.71" y2="291.79"/>
<line x1="80.20" y1="253.70" x2="80.20" y2="309.80"/>
<line x1="84.02" y1="252.12" x2="123.69" y2="291.79"/>
</g>
<circle cx="80.20" cy="248.30" r="61.20" fill="none" stroke="#000" stroke-opacity="0.75" stroke-width="0.6"/>
<circle cx="80.20" cy="248.30" r="5.40" fill="#fff"/>
<text x="148.2" y="250.8" font-family="Liberation Serif, serif" font-size="7.2" text-anchor="middle" fill="#222">0<tspan font-size="5.6" dy="-2.0">°</tspan></text>
<text x="128.3" y="202.7" font-family="Liberation Serif, serif" font-size="7.2" text-anchor="middle" fill="#222">45<tspan font-size="5.6" dy="-2.0">°</tspan></text>
<text x="80.2" y="182.8" font-family="Liberation Serif, serif" font-size="7.2" text-anchor="middle" fill="#222">90<tspan font-size="5.6" dy="-2.0">°</tspan></text>
<text x="32.1" y="202.7" font-family="Liberation Serif, serif" font-size="7.2" text-anchor="middle" fill="#222">135<tspan font-size="5.6" dy="-2.0">°</tspan></text>
<text x="12.2" y="250.8" font-family="Liberation Serif, serif" font-size="7.2" text-anchor="middle" fill="#222">180<tspan font-size="5.6" dy="-2.0">°</tspan></text>
<text x="32.1" y="298.9" font-family="Liberation Serif, serif" font-size="7.2" text-anchor="middle" fill="#222">225<tspan font-size="5.6" dy="-2.0">°</tspan></text>
<text x="80.2" y="318.8" font-family="Liberation Serif, serif" font-size="7.2" text-anchor="middle" fill="#222">270<tspan font-size="5.6" dy="-2.0">°</tspan></text>
<text x="128.3" y="298.9" font-family="Liberation Serif, serif" font-size="7.2" text-anchor="middle" fill="#222">315<tspan font-size="5.6" dy="-2.0">°</tspan></text>
<text x="93.6" y="246.8" font-family="Liberation Serif, serif" font-size="7.0" text-anchor="middle" fill="#fff">10</text>
<text x="102.8" y="246.8" font-family="Liberation Serif, serif" font-size="7.0" text-anchor="middle" fill="#fff">20</text>
<text x="112.0" y="246.8" font-family="Liberation Serif, serif" font-size="7.0" text-anchor="middle" fill="#fff">30</text>
<text x="121.7" y="246.8" font-family="Liberation Serif, serif" font-size="7.0" text-anchor="middle" fill="#fff">40</text>
<text x="130.5" y="246.8" font-family="Liberation Serif, serif" font-size="7.0" text-anchor="middle" fill="#fff">50</text>
<text x="139.2" y="246.8" font-family="Liberation Serif, serif" font-size="7.0" text-anchor="middle" fill="#fff">60</text>
<text x="114.4" y="254.6" font-family="Liberation Serif, serif" font-size="7.0" text-anchor="middle" fill="#fff"><tspan font-style="italic">θ</tspan>(°)</text>
<rect x="150.80" y="186.20" width="6.40" height="123.80" fill="url(#cb)" stroke="#444" stroke-width="0.3"/>
<line x1="157.20" y1="187.30" x2="158.80" y2="187.30" stroke="#000" stroke-width="0.4"/>
<text x="159.20" y="189.80" font-family="Liberation Serif, serif" font-size="7.0" fill="#111">0.5</text>
<line x1="157.20" y1="201.79" x2="158.80" y2="201.79" stroke="#000" stroke-width="0.4"/>
<text x="159.20" y="204.29" font-family="Liberation Serif, serif" font-size="7.0" fill="#111">0.4</text>
<line x1="157.20" y1="216.28" x2="158.80" y2="216.28" stroke="#000" stroke-width="0.4"/>
<text x="159.20" y="218.78" font-family="Liberation Serif, serif" font-size="7.0" fill="#111">0.3</text>
<line x1="157.20" y1="230.77" x2="158.80" y2="230.77" stroke="#000" stroke-width="0.4"/>
<text x="159.20" y="233.27" font-family="Liberation Serif, serif" font-size="7.0" fill="#111">0.2</text>
<line x1="157.20" y1="245.26" x2="158.80" y2="245.26" stroke="#000" stroke-width="0.4"/>
<text x="159.20" y="247.76" font-family="Liberation Serif, serif" font-size="7.0" fill="#111">0.1</text>
<line x1="157.20" y1="259.75" x2="158.80" y2="259.75" stroke="#000" stroke-width="0.4"/>
<text x="159.20" y="262.25" font-family="Liberation Serif, serif" font-size="7.0" fill="#111">0.0</text>
<line x1="157.20" y1="274.24" x2="158.80" y2="274.24" stroke="#000" stroke-width="0.4"/>
<text x="159.20" y="276.74" font-family="Liberation Serif, serif" font-size="7.0" fill="#111">−0.1</text>
<line x1="157.20" y1="288.73" x2="158.80" y2="288.73" stroke="#000" stroke-width="0.4"/>
<text x="159.20" y="291.23" font-family="Liberation Serif, serif" font-size="7.0" fill="#111">−0.2</text>
<line x1="157.20" y1="303.22" x2="158.80" y2="303.22" stroke="#000" stroke-width="0.4"/>
<text x="159.20" y="305.72" font-family="Liberation Serif, serif" font-size="7.0" fill="#111">−0.3</text>
<text x="5.2" y="191.2" font-family="Liberation Serif, serif" font-size="20" fill="#000">(c)</text>
<text x="32.9" y="335.1" font-family="Liberation Serif, serif" font-size="16.5" textLength="20.5" lengthAdjust="spacingAndGlyphs" fill="#000">2H</text>
<text x="53.7" y="337.1" font-family="Liberation Serif, serif" font-size="10.2" fill="#000">a</text>
<rect x="63.6" y="329.8" width="9.3" height="0.9" fill="#000"/>
<text x="78.8" y="335.1" font-family="Liberation Serif, serif" font-size="16.5" textLength="59.2" lengthAdjust="spacingAndGlyphs" fill="#000">R=0.08</text>
<ellipse cx="101.3" cy="211.7" rx="15.8" ry="8.8" transform="rotate(28.5 101.3 211.7)" fill="none" stroke="#f7ef5a" stroke-width="1.6"/>
<g stroke="#fff" stroke-opacity="0.33" stroke-width="0.5" fill="none">
<circle cx="273.20" cy="247.90" r="8.70"/>
<circle cx="273.20" cy="247.90" r="18.00"/>
<circle cx="273.20" cy="247.90" r="27.30"/>
<circle cx="273.20" cy="247.90" r="36.60"/>
<circle cx="273.20" cy="247.90" r="45.90"/>
<circle cx="273.20" cy="247.90" r="55.30"/>
<line x1="278.60" y1="247.90" x2="334.70" y2="247.90"/>
<line x1="277.02" y1="244.08" x2="316.69" y2="204.41"/>
<line x1="273.20" y1="242.50" x2="273.20" y2="186.40"/>
<line x1="269.38" y1="244.08" x2="229.71" y2="204.41"/>
<line x1="267.80" y1="247.90" x2="211.70" y2="247.90"/>
<line x1="269.38" y1="251.72" x2="229.71" y2="291.39"/>
<line x1="273.20" y1="253.30" x2="273.20" y2="309.40"/>
<line x1="277.02" y1="251.72" x2="316.69" y2="291.39"/>
</g>
<circle cx="273.20" cy="247.90" r="61.20" fill="none" stroke="#000" stroke-opacity="0.75" stroke-width="0.6"/>
<circle cx="273.20" cy="247.90" r="5.40" fill="#fff"/>
<text x="341.2" y="250.4" font-family="Liberation Serif, serif" font-size="7.2" text-anchor="middle" fill="#222">0<tspan font-size="5.6" dy="-2.0">°</tspan></text>
<text x="321.3" y="202.3" font-family="Liberation Serif, serif" font-size="7.2" text-anchor="middle" fill="#222">45<tspan font-size="5.6" dy="-2.0">°</tspan></text>
<text x="273.2" y="182.4" font-family="Liberation Serif, serif" font-size="7.2" text-anchor="middle" fill="#222">90<tspan font-size="5.6" dy="-2.0">°</tspan></text>
<text x="225.1" y="202.3" font-family="Liberation Serif, serif" font-size="7.2" text-anchor="middle" fill="#222">135<tspan font-size="5.6" dy="-2.0">°</tspan></text>
<text x="205.2" y="250.4" font-family="Liberation Serif, serif" font-size="7.2" text-anchor="middle" fill="#222">180<tspan font-size="5.6" dy="-2.0">°</tspan></text>
<text x="225.1" y="298.5" font-family="Liberation Serif, serif" font-size="7.2" text-anchor="middle" fill="#222">225<tspan font-size="5.6" dy="-2.0">°</tspan></text>
<text x="273.2" y="318.4" font-family="Liberation Serif, serif" font-size="7.2" text-anchor="middle" fill="#222">270<tspan font-size="5.6" dy="-2.0">°</tspan></text>
<text x="321.3" y="298.5" font-family="Liberation Serif, serif" font-size="7.2" text-anchor="middle" fill="#222">315<tspan font-size="5.6" dy="-2.0">°</tspan></text>
<text x="286.6" y="246.4" font-family="Liberation Serif, serif" font-size="7.0" text-anchor="middle" fill="#fff">10</text>
<text x="295.8" y="246.4" font-family="Liberation Serif, serif" font-size="7.0" text-anchor="middle" fill="#fff">20</text>
<text x="305.0" y="246.4" font-family="Liberation Serif, serif" font-size="7.0" text-anchor="middle" fill="#fff">30</text>
<text x="314.7" y="246.4" font-family="Liberation Serif, serif" font-size="7.0" text-anchor="middle" fill="#fff">40</text>
<text x="323.5" y="246.4" font-family="Liberation Serif, serif" font-size="7.0" text-anchor="middle" fill="#fff">50</text>
<text x="332.2" y="246.4" font-family="Liberation Serif, serif" font-size="7.0" text-anchor="middle" fill="#fff">60</text>
<text x="307.4" y="254.2" font-family="Liberation Serif, serif" font-size="7.0" text-anchor="middle" fill="#fff"><tspan font-style="italic">θ</tspan>(°)</text>
<rect x="344.20" y="186.20" width="6.40" height="124.30" fill="url(#cb)" stroke="#444" stroke-width="0.3"/>
<line x1="350.60" y1="193.30" x2="352.20" y2="193.30" stroke="#000" stroke-width="0.4"/>
<text x="352.60" y="195.80" font-family="Liberation Serif, serif" font-size="7.0" fill="#111">0.20</text>
<line x1="350.60" y1="210.07" x2="352.20" y2="210.07" stroke="#000" stroke-width="0.4"/>
<text x="352.60" y="212.57" font-family="Liberation Serif, serif" font-size="7.0" fill="#111">0.15</text>
<line x1="350.60" y1="226.84" x2="352.20" y2="226.84" stroke="#000" stroke-width="0.4"/>
<text x="352.60" y="229.34" font-family="Liberation Serif, serif" font-size="7.0" fill="#111">0.10</text>
<line x1="350.60" y1="243.61" x2="352.20" y2="243.61" stroke="#000" stroke-width="0.4"/>
<text x="352.60" y="246.11" font-family="Liberation Serif, serif" font-size="7.0" fill="#111">0.05</text>
<line x1="350.60" y1="260.38" x2="352.20" y2="260.38" stroke="#000" stroke-width="0.4"/>
<text x="352.60" y="262.88" font-family="Liberation Serif, serif" font-size="7.0" fill="#111">0.00</text>
<line x1="350.60" y1="277.15" x2="352.20" y2="277.15" stroke="#000" stroke-width="0.4"/>
<text x="352.60" y="279.65" font-family="Liberation Serif, serif" font-size="7.0" fill="#111">−0.05</text>
<line x1="350.60" y1="293.92" x2="352.20" y2="293.92" stroke="#000" stroke-width="0.4"/>
<text x="352.60" y="296.42" font-family="Liberation Serif, serif" font-size="7.0" fill="#111">−0.10</text>
<text x="193.6" y="192.6" font-family="Liberation Serif, serif" font-size="20" fill="#000">(d)</text>
<text x="233.2" y="334.9" font-family="Liberation Serif, serif" font-size="16.5" textLength="86.5" lengthAdjust="spacingAndGlyphs" fill="#000">experiment</text>
<ellipse cx="294.3" cy="211.3" rx="15.8" ry="8.8" transform="rotate(28.5 294.3 211.3)" fill="none" stroke="#f7ef5a" stroke-width="1.6"/>
<clipPath id="axc"><rect x="34.5" y="373.3" width="316.0" height="235.1"/></clipPath>
<g clip-path="url(#axc)" fill="none" stroke-width="1.45" stroke-linejoin="miter">
<polyline points="34.1,600.1 41.6,591.7 49.1,593.2 56.5,569.0 64.0,489.0 71.5,408.0 79.0,398.0 86.4,477.0 93.9,552.0 101.4,587.0 108.8,594.3 116.3,592.4 123.8,579.3 131.2,522.0 138.7,487.2 146.2,504.4 153.7,504.8 161.1,492.2 168.6,508.7 176.1,547.4 183.5,600.1 191.0,591.7 198.5,593.2 205.9,569.0 213.4,489.0 220.9,408.0 228.3,398.0 235.8,477.0 243.3,552.0 250.8,587.0 258.2,594.3 265.7,592.4 273.2,579.3 280.6,522.0 288.1,487.2 295.6,504.4 303.1,504.8 310.5,492.2 318.0,508.7 325.5,547.4 332.9,600.1 340.4,591.7 347.9,593.2 355.3,569.0" stroke="#0000ff"/>
<polyline points="34.1,596.9 41.6,600.5 49.1,588.0 56.5,564.0 64.0,505.0 71.5,425.0 79.0,398.0 86.4,465.0 93.9,535.0 101.4,582.0 108.8,594.3 116.3,593.3 123.8,584.0 131.2,534.5 138.7,487.0 146.2,444.9 153.7,451.8 161.1,476.8 168.6,513.0 176.1,577.5 183.5,596.9 191.0,600.5 198.5,588.0 205.9,564.0 213.4,505.0 220.9,425.0 228.3,398.0 235.8,465.0 243.3,535.0 250.8,582.0 258.2,594.3 265.7,593.3 273.2,584.0 280.6,534.5 288.1,487.0 295.6,444.9 303.1,451.8 310.5,476.8 318.0,513.0 325.5,577.5 332.9,596.9 340.4,600.5 347.9,588.0 355.3,564.0" stroke="#ff0000" stroke-dasharray="8.8 2.4 1.4 2.4"/>
<polyline points="34.1,581.8 41.6,578.0 49.1,573.0 56.5,530.0 64.0,486.0 71.5,442.0 79.0,398.0 86.4,450.0 93.9,503.0 101.4,553.0 108.8,592.4 116.3,595.6 123.8,578.4 131.2,534.5 138.7,509.8 146.2,504.4 153.7,500.5 161.1,502.3 168.6,511.9 176.1,541.0 183.5,581.8 191.0,578.0 198.5,573.0 205.9,530.0 213.4,486.0 220.9,442.0 228.3,398.0 235.8,450.0 243.3,503.0 250.8,553.0 258.2,592.4 265.7,595.6 273.2,578.4 280.6,534.5 288.1,509.8 295.6,504.4 303.1,500.5 310.5,502.3 318.0,511.9 325.5,541.0 332.9,581.8 340.4,578.0 347.9,573.0 355.3,530.0" stroke="#000" stroke-dasharray="5.0 2.3"/>
</g>
<rect x="34.5" y="373.3" width="316.0" height="235.1" fill="none" stroke="#444" stroke-width="0.8"/>
<line x1="32.3" y1="395.7" x2="34.5" y2="395.7" stroke="#444" stroke-width="0.8"/>
<line x1="32.3" y1="440.5" x2="34.5" y2="440.5" stroke="#444" stroke-width="0.8"/>
<line x1="32.3" y1="485.3" x2="34.5" y2="485.3" stroke="#444" stroke-width="0.8"/>
<line x1="32.3" y1="530.2" x2="34.5" y2="530.2" stroke="#444" stroke-width="0.8"/>
<line x1="32.3" y1="575.0" x2="34.5" y2="575.0" stroke="#444" stroke-width="0.8"/>
<line x1="51.9" y1="608.4" x2="51.9" y2="610.6" stroke="#444" stroke-width="0.8"/>
<text x="51.9" y="624.2" font-family="Liberation Serif, serif" font-size="14.2" text-anchor="middle" fill="#000">20</text>
<line x1="101.7" y1="608.4" x2="101.7" y2="610.6" stroke="#444" stroke-width="0.8"/>
<text x="101.7" y="624.2" font-family="Liberation Serif, serif" font-size="14.2" text-anchor="middle" fill="#000">40</text>
<line x1="151.4" y1="608.4" x2="151.4" y2="610.6" stroke="#444" stroke-width="0.8"/>
<text x="151.4" y="624.2" font-family="Liberation Serif, serif" font-size="14.2" text-anchor="middle" fill="#000">60</text>
<line x1="201.2" y1="608.4" x2="201.2" y2="610.6" stroke="#444" stroke-width="0.8"/>
<text x="201.2" y="624.2" font-family="Liberation Serif, serif" font-size="14.2" text-anchor="middle" fill="#000">80</text>
<line x1="251.0" y1="608.4" x2="251.0" y2="610.6" stroke="#444" stroke-width="0.8"/>
<text x="251.0" y="624.2" font-family="Liberation Serif, serif" font-size="14.2" text-anchor="middle" fill="#000">100</text>
<line x1="300.7" y1="608.4" x2="300.7" y2="610.6" stroke="#444" stroke-width="0.8"/>
<text x="300.7" y="624.2" font-family="Liberation Serif, serif" font-size="14.2" text-anchor="middle" fill="#000">120</text>
<line x1="350.5" y1="608.4" x2="350.5" y2="610.6" stroke="#444" stroke-width="0.8"/>
<text x="350.5" y="624.2" font-family="Liberation Serif, serif" font-size="14.2" text-anchor="middle" fill="#000">140</text>
<text x="105.9" y="642.3" font-family="Liberation Serif, serif" font-size="14.6" textLength="173.6" lengthAdjust="spacingAndGlyphs" fill="#000">azimuthal angle <tspan font-style="italic">ϕ</tspan> (degrees)</text>
<text transform="translate(24.5 562.2) rotate(-90)" x="0" y="0" font-family="Liberation Serif, serif" font-size="15" textLength="142" lengthAdjust="spacingAndGlyphs" fill="#000">modulation (arb. units)</text>
<text x="4.6" y="378.3" font-family="Liberation Serif, serif" font-size="20" fill="#000">(e)</text>
<line x1="261.2" y1="392.6" x2="293.7" y2="392.6" stroke="#0000ff" stroke-width="1.45"/>
<line x1="262.1" y1="415.0" x2="293.7" y2="415.0" stroke="#ff0000" stroke-width="1.45" stroke-dasharray="8.8 2.4 1.4 2.4"/>
<line x1="262.1" y1="437.2" x2="293.7" y2="437.2" stroke="#000" stroke-width="1.45" stroke-dasharray="5.0 2.3"/>
<text x="306" y="398.8" font-family="Liberation Serif, serif" font-size="15" fill="#000">2H<tspan font-style="italic" font-size="10.5" dy="2.2">a</tspan></text>
<text x="306" y="420.7" font-family="Liberation Serif, serif" font-size="15" fill="#000">2H<tspan font-style="italic" font-size="10.5" dy="2.2">a</tspan><tspan dy="-2.2">"</tspan></text>
<text x="306" y="442.0" font-family="Liberation Serif, serif" font-size="15" fill="#000">exp</text>
<path d="M142.4,387.6 L154.9,387.6 L154.9,422.9 L160.9,422.9 L148.6,434.5 L137.0,422.9 L142.4,422.9 Z" fill="#fbf560" stroke="#000" stroke-width="1"/>
</svg>
</div>
<script>
(function(){
var L=[0, 0, 4, 1, 0, 5, 1, 1, 6, 1, 1, 8, 2, 1, 10, 2, 2, 12, 2, 2, 14, 3, 2, 16, 4, 3, 18, 4, 3, 20, 5, 4, 23, 6, 4, 25, 7, 5, 27, 8, 5, 29, 9, 6, 31, 10, 7, 34, 11, 7, 36, 12, 8, 38, 13, 8, 41, 14, 9, 43, 16, 9, 45, 17, 10, 48, 18, 10, 50, 20, 11, 52, 21, 11, 55, 22, 11, 57, 24, 12, 60, 25, 12, 62, 27, 12, 65, 28, 12, 67, 30, 12, 69, 31, 12, 72, 33, 12, 74, 35, 12, 76, 36, 12, 79, 38, 12, 81, 40, 11, 83, 41, 11, 85, 43, 11, 87, 45, 11, 89, 47, 10, 91, 49, 10, 92, 50, 10, 94, 52, 10, 95, 54, 9, 97, 56, 9, 98, 57, 9, 99, 59, 9, 100, 61, 9, 101, 62, 9, 102, 64, 10, 103, 66, 10, 104, 68, 10, 104, 69, 10, 105, 71, 11, 106, 73, 11, 106, 74, 12, 107, 76, 12, 107, 77, 13, 108, 79, 13, 108, 81, 14, 108, 82, 14, 109, 84, 15, 109, 85, 15, 109, 87, 16, 110, 89, 16, 110, 90, 17, 110, 92, 18, 110, 93, 18, 110, 95, 19, 110, 97, 19, 110, 98, 20, 110, 100, 21, 110, 101, 21, 110, 103, 22, 110, 105, 22, 110, 106, 23, 110, 108, 24, 110, 109, 24, 110, 111, 25, 110, 113, 25, 110, 114, 26, 110, 116, 26, 110, 117, 27, 110, 119, 28, 109, 120, 28, 109, 122, 29, 109, 124, 29, 109, 125, 30, 109, 127, 30, 108, 128, 31, 108, 130, 32, 108, 132, 32, 107, 133, 33, 107, 135, 33, 107, 136, 34, 106, 138, 34, 106, 140, 35, 105, 141, 35, 105, 143, 36, 105, 144, 37, 104, 146, 37, 104, 147, 38, 103, 149, 38, 103, 151, 39, 102, 152, 39, 102, 154, 40, 101, 155, 41, 100, 157, 41, 100, 159, 42, 99, 160, 42, 99, 162, 43, 98, 163, 44, 97, 165, 44, 96, 166, 45, 96, 168, 46, 95, 169, 46, 94, 171, 47, 94, 173, 48, 93, 174, 48, 92, 176, 49, 91, 177, 50, 90, 179, 50, 90, 180, 51, 89, 182, 52, 88, 183, 53, 87, 185, 53, 86, 186, 54, 85, 188, 55, 84, 189, 56, 83, 191, 57, 82, 192, 58, 81, 193, 58, 80, 195, 59, 79, 196, 60, 78, 198, 61, 77, 199, 62, 76, 200, 63, 75, 202, 64, 74, 203, 65, 73, 204, 66, 72, 206, 67, 71, 207, 68, 70, 208, 69, 69, 210, 70, 68, 211, 71, 67, 212, 72, 66, 213, 74, 65, 215, 75, 63, 216, 76, 62, 217, 77, 61, 218, 78, 60, 219, 80, 59, 221, 81, 58, 222, 82, 56, 223, 83, 55, 224, 85, 54, 225, 86, 53, 226, 87, 52, 227, 89, 51, 228, 90, 49, 229, 92, 48, 230, 93, 47, 231, 94, 46, 232, 96, 45, 233, 97, 43, 234, 99, 42, 235, 100, 41, 235, 102, 40, 236, 103, 38, 237, 105, 37, 238, 106, 36, 239, 108, 35, 239, 110, 33, 240, 111, 32, 241, 113, 31, 241, 115, 29, 242, 116, 28, 243, 118, 27, 243, 120, 25, 244, 121, 24, 245, 123, 23, 245, 125, 21, 246, 126, 20, 246, 128, 19, 247, 130, 18, 247, 132, 16, 248, 133, 15, 248, 135, 14, 248, 137, 12, 249, 139, 11, 249, 140, 10, 249, 142, 9, 250, 144, 8, 250, 146, 7, 250, 148, 7, 251, 150, 6, 251, 151, 6, 251, 153, 6, 251, 155, 6, 251, 157, 7, 252, 159, 7, 252, 161, 8, 252, 163, 9, 252, 165, 10, 252, 166, 12, 252, 168, 13, 252, 170, 15, 252, 172, 17, 252, 174, 18, 252, 176, 20, 252, 178, 22, 252, 180, 24, 251, 182, 26, 251, 184, 29, 251, 186, 31, 251, 188, 33, 251, 190, 35, 250, 192, 38, 250, 194, 40, 250, 196, 42, 250, 198, 45, 249, 199, 47, 249, 201, 50, 249, 203, 53, 248, 205, 55, 248, 207, 58, 247, 209, 61, 247, 211, 64, 246, 213, 67, 246, 215, 70, 245, 217, 73, 245, 219, 76, 244, 221, 79, 244, 223, 83, 244, 225, 86, 243, 227, 90, 243, 229, 93, 242, 230, 97, 242, 232, 101, 242, 234, 105, 241, 236, 109, 241, 237, 113, 241, 239, 117, 241, 241, 121, 242, 242, 125, 242, 244, 130, 243, 245, 134, 243, 246, 138, 244, 248, 142, 245, 249, 146, 246, 250, 150, 248, 251, 154, 249, 252, 157, 250, 253, 161, 252, 255, 164];
var P=[{"cx": 77.7, "cy": 73.7, "R": 61.5, "h": 5.4, "b": 0.24, "bl": [[23.0, 0, 3.0, 3.2, 0.45], [35.0, 0, 4.0, 4.4, 0.76], [50.0, 0, 4.0, 4.4, 0.68], [14.0, 30, 2.6, 2.6, 0.42], [29.5, 30, 3.2, 3.2, 0.52], [42.5, 30, 3.3, 3.2, 0.56], [50.5, 30, 3.3, 3.2, 0.52], [60.0, 30, 2.0, 4.5, 0.4], [60.0, 90, 3.0, 3.5, 0.22, [90, 270]], [35.0, 15, 3.0, 3.4, -0.2], [46.0, 15, 2.8, 3.2, -0.2], [52.0, 17, 2.8, 3.2, -0.18], [13.0, 0, 2.5, 2.5, -0.12], [20.0, 12, 2.2, 2.2, -0.1]]}, {"cx": 276.7, "cy": 73.7, "R": 61.6, "h": 5.4, "b": 0.24, "bl": [[60.0, 30, 2.5, 4.0, 0.7], [47.0, 30, 4.0, 3.2, 0.38], [29.0, 30, 12.0, 2.4, 0.42], [29.0, 0, 3.0, 3.8, 0.46], [43.0, 0, 3.2, 4.8, 0.5], [56.5, 0, 2.8, 5.5, 0.42], [50.0, 19, 3.8, 3.5, 0.5], [60.8, 19, 2.0, 3.0, -0.24], [39.0, 13, 3.0, 3.0, -0.12], [58.0, 10, 2.5, 3.0, -0.12], [30.0, 15, 3.0, 3.0, -0.06]]}, {"cx": 80.2, "cy": 248.3, "R": 61.5, "h": 5.4, "b": 0.25, "bl": [[58.5, 30, 3.0, 4.2, 0.76], [44.0, 30, 5.5, 3.8, 0.78], [52.0, 30, 3.0, 3.0, 0.28], [18.5, 30, 5.0, 2.8, 0.58], [14.0, 0, 3.0, 3.0, -0.06], [29.5, 0, 3.2, 3.5, 0.5], [42.5, 0, 3.0, 3.5, 0.4], [55.5, 0, 3.0, 7.0, 0.53], [53.0, 17, 3.0, 3.2, 0.44], [60.3, 18, 2.5, 3.5, -0.26], [44.0, 17, 3.2, 3.2, -0.22], [32.5, 30, 2.5, 2.5, -0.06]]}, {"cx": 273.2, "cy": 247.9, "R": 61.5, "h": 5.4, "b": 0.25, "bl": [[58.8, 30, 3.0, 4.5, 0.68], [43.5, 30, 5.5, 3.8, 0.72], [51.5, 30, 3.0, 3.0, 0.28], [50.0, 25, 3.0, 2.5, 0.2], [18.5, 30, 5.0, 2.8, 0.56], [14.0, 0, 3.0, 3.0, -0.06], [28.5, 0, 3.2, 3.5, 0.5], [41.5, 0, 3.0, 3.5, 0.36], [55.5, 0, 3.0, 7.0, 0.5], [52.0, 18, 3.0, 3.2, 0.4], [60.0, 17, 2.5, 3.5, -0.26], [44.0, 16, 3.2, 3.2, -0.22], [32.5, 30, 2.5, 2.5, -0.06]]}];
var cv=document.getElementById('cv');
if(!cv||!cv.getContext)return;
var ctx=cv.getContext('2d');
var W=375,H=651;
var img=ctx.createImageData(W,H);
var d=img.data;
for(var pi=0;pi<P.length;pi++){
 var p=P[pi];
 var cps=[];
 for(var j=0;j<p.bl.length;j++){
  var b=p.bl[j];var seen=[];
  if(b.length>5){for(var q=0;q<b[5].length;q++)cps.push([b[0],b[5][q]*Math.PI/180,b[2],b[3],b[4]]);continue;}
  for(var k=0;k<6;k++){for(var s=-1;s<=1;s+=2){
   var a=((60*k+s*b[1])%360+360)%360;var dup=false;
   for(var q=0;q<seen.length;q++){var dd=Math.abs(((a-seen[q]+540)%360)-180);if(dd<0.5)dup=true;}
   if(!dup){seen.push(a);cps.push([b[0],a*Math.PI/180,b[2],b[3],b[4]]);}
  }}
 }
 var x0=Math.floor(p.cx-p.R-1),x1=Math.ceil(p.cx+p.R+1),y0=Math.floor(p.cy-p.R-1),y1=Math.ceil(p.cy+p.R+1);
 for(var y=y0;y<y1;y++){for(var x=x0;x<x1;x++){
  var dx=x+0.5-p.cx,dy=p.cy-(y+0.5);
  var r=Math.sqrt(dx*dx+dy*dy);
  var cov=Math.max(0,Math.min(1,p.R-r+0.5));
  if(cov<=0)continue;
  var ph=Math.atan2(dy,dx);
  var v=p.b;
  for(var c=0;c<cps.length;c++){
   var B=cps[c];
   var da=ph-B[1];
   if(da>Math.PI)da-=2*Math.PI;else if(da<-Math.PI)da+=2*Math.PI;
   var rt=0.5*(r+B[0]);
   var dr=(r-B[0])/B[2],dt=(rt*da)/B[3];
   var e=dr*dr+dt*dt;
   if(e<18)v+=B[4]*Math.exp(-0.5*e);
  }
  if(v<0)v=0;if(v>1)v=1;
  var li=Math.round(v*255)*3;
  var o=(y*W+x)*4;
  var hc=Math.max(0,Math.min(1,r-p.h+0.5));
  var al=cov;
  d[o]=L[li];d[o+1]=L[li+1];d[o+2]=L[li+2];d[o+3]=Math.round(255*al);
 }}
}
ctx.putImageData(img,0,0);
var fb=document.getElementById('fbs');if(fb)fb.style.display='none';
})();
</script>
</body></html>
